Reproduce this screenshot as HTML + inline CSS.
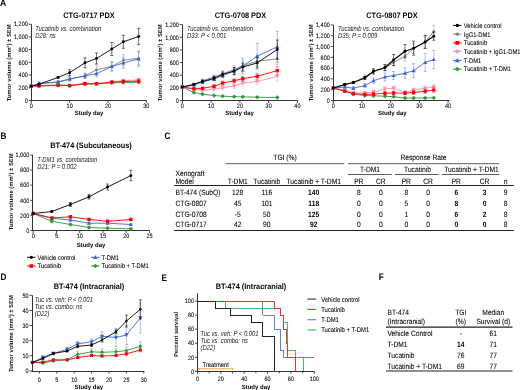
<!DOCTYPE html>
<html><head><meta charset="utf-8"><style>
html,body{margin:0;padding:0;background:#fff;}
svg{display:block;font-family:"Liberation Sans", sans-serif;text-rendering:geometricPrecision;filter:blur(0.25px);}
</style></head><body>
<svg width="520" height="390" viewBox="0 0 520 390">
<rect width="520" height="390" fill="#fff"/>
<text transform="translate(0.00,6.40) scale(1,1.09)" font-size="8.6" font-weight="bold" >A</text>
<text transform="translate(0.40,138.70) scale(0.95,1.09)" font-size="8.6" font-weight="bold" >B</text>
<text transform="translate(164.50,138.80) scale(0.95,1.09)" font-size="8.6" font-weight="bold" >C</text>
<text transform="translate(0.60,279.50) scale(0.95,1.09)" font-size="8.6" font-weight="bold" >D</text>
<text transform="translate(161.60,280.50) scale(0.95,1.09)" font-size="8.6" font-weight="bold" >E</text>
<text transform="translate(378.80,280.20) scale(0.95,1.09)" font-size="8.6" font-weight="bold" >F</text>
<text transform="translate(89.00,17.82) scale(1,1.08)" font-size="7.35" text-anchor="middle" font-weight="bold" >CTG-0717 PDX</text>
<line x1="31.50" y1="24.20" x2="31.50" y2="100.90" stroke="#333" stroke-width="1.0" />
<line x1="28.80" y1="100.40" x2="31.30" y2="100.40" stroke="#333" stroke-width="0.9" />
<text transform="translate(27.80,102.65) scale(1,1.15)" font-size="5.5" text-anchor="end" stroke="#000" stroke-width="0.06" >0</text>
<line x1="28.80" y1="87.70" x2="31.30" y2="87.70" stroke="#333" stroke-width="0.9" />
<text transform="translate(27.80,89.95) scale(1,1.15)" font-size="5.5" text-anchor="end" stroke="#000" stroke-width="0.06" >200</text>
<line x1="28.80" y1="75.00" x2="31.30" y2="75.00" stroke="#333" stroke-width="0.9" />
<text transform="translate(27.80,77.25) scale(1,1.15)" font-size="5.5" text-anchor="end" stroke="#000" stroke-width="0.06" >400</text>
<line x1="28.80" y1="62.30" x2="31.30" y2="62.30" stroke="#333" stroke-width="0.9" />
<text transform="translate(27.80,64.55) scale(1,1.15)" font-size="5.5" text-anchor="end" stroke="#000" stroke-width="0.06" >600</text>
<line x1="28.80" y1="49.60" x2="31.30" y2="49.60" stroke="#333" stroke-width="0.9" />
<text transform="translate(27.80,51.85) scale(1,1.15)" font-size="5.5" text-anchor="end" stroke="#000" stroke-width="0.06" >800</text>
<line x1="28.80" y1="36.90" x2="31.30" y2="36.90" stroke="#333" stroke-width="0.9" />
<text transform="translate(27.80,39.15) scale(1,1.15)" font-size="5.5" text-anchor="end" stroke="#000" stroke-width="0.06" >1,000</text>
<line x1="28.80" y1="24.20" x2="31.30" y2="24.20" stroke="#333" stroke-width="0.9" />
<text transform="translate(27.80,26.45) scale(1,1.15)" font-size="5.5" text-anchor="end" stroke="#000" stroke-width="0.06" >1,200</text>
<line x1="30.80" y1="100.50" x2="146.35" y2="100.50" stroke="#333" stroke-width="1.0" />
<line x1="31.30" y1="100.40" x2="31.30" y2="102.90" stroke="#333" stroke-width="0.9" />
<text transform="translate(31.30,108.05) scale(1,1.15)" font-size="5.5" text-anchor="middle" stroke="#000" stroke-width="0.06" >0</text>
<line x1="69.65" y1="100.40" x2="69.65" y2="102.90" stroke="#333" stroke-width="0.9" />
<text transform="translate(69.65,108.05) scale(1,1.15)" font-size="5.5" text-anchor="middle" stroke="#000" stroke-width="0.06" >10</text>
<line x1="108.00" y1="100.40" x2="108.00" y2="102.90" stroke="#333" stroke-width="0.9" />
<text transform="translate(108.00,108.05) scale(1,1.15)" font-size="5.5" text-anchor="middle" stroke="#000" stroke-width="0.06" >20</text>
<line x1="146.35" y1="100.40" x2="146.35" y2="102.90" stroke="#333" stroke-width="0.9" />
<text transform="translate(146.35,108.05) scale(1,1.15)" font-size="5.5" text-anchor="middle" stroke="#000" stroke-width="0.06" >30</text>
<text transform="translate(89.00,115.12) scale(1,1.04)" font-size="6.0" text-anchor="middle" font-weight="bold" >Study day</text>
<text transform="translate(8.70,62.80) rotate(-90) scale(1,1)" x="0" y="2.11" font-size="5.85" font-weight="bold" text-anchor="middle" fill="#1a1a1a">Tumor volume (mm<tspan font-size="58%" dy="-2.1">3</tspan><tspan dy="2.1">) ± SEM</tspan></text>
<text transform="translate(35.30,30.62) scale(1,1.25)" font-size="5.9" font-style="italic" fill="#222" >Tucatinib vs. combination</text>
<text transform="translate(35.30,37.72) scale(1,1.25)" font-size="5.9" font-style="italic" fill="#222" >D28: ns</text>
<path d="M58.14,84.80V85.80M56.64,84.80H59.64M56.64,85.80H59.64" stroke="#2f9a3a" stroke-width="0.75" fill="none" stroke-opacity="0.55"/>
<path d="M69.65,85.10V86.10M68.15,85.10H71.15M68.15,86.10H71.15" stroke="#2f9a3a" stroke-width="0.75" fill="none" stroke-opacity="0.55"/>
<path d="M84.99,83.70V84.70M83.49,83.70H86.49M83.49,84.70H86.49" stroke="#2f9a3a" stroke-width="0.75" fill="none" stroke-opacity="0.55"/>
<path d="M96.49,83.30V84.50M94.99,83.30H97.99M94.99,84.50H97.99" stroke="#2f9a3a" stroke-width="0.75" fill="none" stroke-opacity="0.55"/>
<path d="M111.83,82.00V83.60M110.33,82.00H113.33M110.33,83.60H113.33" stroke="#2f9a3a" stroke-width="0.75" fill="none" stroke-opacity="0.55"/>
<path d="M123.34,81.70V83.30M121.84,81.70H124.84M121.84,83.30H124.84" stroke="#2f9a3a" stroke-width="0.75" fill="none" stroke-opacity="0.55"/>
<path d="M138.68,81.50V83.10M137.18,81.50H140.18M137.18,83.10H140.18" stroke="#2f9a3a" stroke-width="0.75" fill="none" stroke-opacity="0.55"/>
<polyline points="31.30,86.10 38.97,85.80 58.14,85.30 69.65,85.60 84.99,84.20 96.49,83.90 111.83,82.80 123.34,82.50 138.68,82.30" fill="none" stroke="#2f9a3a" stroke-width="0.9" stroke-linejoin="round" />
<path d="M31.30,83.95L33.45,86.10L31.30,88.25L29.15,86.10Z" fill="#2f9a3a"/>
<path d="M38.97,83.65L41.12,85.80L38.97,87.95L36.82,85.80Z" fill="#2f9a3a"/>
<path d="M58.14,83.15L60.29,85.30L58.14,87.45L55.99,85.30Z" fill="#2f9a3a"/>
<path d="M69.65,83.45L71.80,85.60L69.65,87.75L67.50,85.60Z" fill="#2f9a3a"/>
<path d="M84.99,82.05L87.14,84.20L84.99,86.35L82.84,84.20Z" fill="#2f9a3a"/>
<path d="M96.49,81.75L98.64,83.90L96.49,86.05L94.34,83.90Z" fill="#2f9a3a"/>
<path d="M111.83,80.65L113.98,82.80L111.83,84.95L109.68,82.80Z" fill="#2f9a3a"/>
<path d="M123.34,80.35L125.49,82.50L123.34,84.65L121.19,82.50Z" fill="#2f9a3a"/>
<path d="M138.68,80.15L140.83,82.30L138.68,84.45L136.53,82.30Z" fill="#2f9a3a"/>
<path d="M38.97,85.10V86.10M37.47,85.10H40.47M37.47,86.10H40.47" stroke="#ff8cb0" stroke-width="0.75" fill="none" stroke-opacity="0.55"/>
<path d="M58.14,83.90V85.90M56.64,83.90H59.64M56.64,85.90H59.64" stroke="#ff8cb0" stroke-width="0.75" fill="none" stroke-opacity="0.55"/>
<path d="M69.65,84.40V86.40M68.15,84.40H71.15M68.15,86.40H71.15" stroke="#ff8cb0" stroke-width="0.75" fill="none" stroke-opacity="0.55"/>
<path d="M84.99,82.40V84.40M83.49,82.40H86.49M83.49,84.40H86.49" stroke="#ff8cb0" stroke-width="0.75" fill="none" stroke-opacity="0.55"/>
<path d="M96.49,82.60V84.60M94.99,82.60H97.99M94.99,84.60H97.99" stroke="#ff8cb0" stroke-width="0.75" fill="none" stroke-opacity="0.55"/>
<path d="M111.83,80.40V82.80M110.33,80.40H113.33M110.33,82.80H113.33" stroke="#ff8cb0" stroke-width="0.75" fill="none" stroke-opacity="0.55"/>
<path d="M123.34,79.10V82.10M121.84,79.10H124.84M121.84,82.10H124.84" stroke="#ff8cb0" stroke-width="0.75" fill="none" stroke-opacity="0.55"/>
<path d="M138.68,77.80V82.20M137.18,77.80H140.18M137.18,82.20H140.18" stroke="#ff8cb0" stroke-width="0.75" fill="none" stroke-opacity="0.55"/>
<polyline points="31.30,86.20 38.97,85.60 58.14,84.90 69.65,85.40 84.99,83.40 96.49,83.60 111.83,81.60 123.34,80.60 138.68,80.00" fill="none" stroke="#ff8cb0" stroke-width="0.9" stroke-linejoin="round" />
<path d="M31.30,88.40L33.50,84.55L29.10,84.55Z" fill="#ff8cb0"/>
<path d="M38.97,87.80L41.17,83.95L36.77,83.95Z" fill="#ff8cb0"/>
<path d="M58.14,87.10L60.34,83.25L55.94,83.25Z" fill="#ff8cb0"/>
<path d="M69.65,87.60L71.85,83.75L67.45,83.75Z" fill="#ff8cb0"/>
<path d="M84.99,85.60L87.19,81.75L82.79,81.75Z" fill="#ff8cb0"/>
<path d="M96.49,85.80L98.69,81.95L94.29,81.95Z" fill="#ff8cb0"/>
<path d="M111.83,83.80L114.03,79.95L109.63,79.95Z" fill="#ff8cb0"/>
<path d="M123.34,82.80L125.54,78.95L121.14,78.95Z" fill="#ff8cb0"/>
<path d="M138.68,82.20L140.88,78.35L136.48,78.35Z" fill="#ff8cb0"/>
<path d="M38.97,85.50V86.50M37.47,85.50H40.47M37.47,86.50H40.47" stroke="#ff0000" stroke-width="0.75" fill="none" stroke-opacity="0.55"/>
<path d="M58.14,84.40V86.00M56.64,84.40H59.64M56.64,86.00H59.64" stroke="#ff0000" stroke-width="0.75" fill="none" stroke-opacity="0.55"/>
<path d="M69.65,85.20V86.20M68.15,85.20H71.15M68.15,86.20H71.15" stroke="#ff0000" stroke-width="0.75" fill="none" stroke-opacity="0.55"/>
<path d="M84.99,82.80V84.40M83.49,82.80H86.49M83.49,84.40H86.49" stroke="#ff0000" stroke-width="0.75" fill="none" stroke-opacity="0.55"/>
<path d="M96.49,83.00V84.60M94.99,83.00H97.99M94.99,84.60H97.99" stroke="#ff0000" stroke-width="0.75" fill="none" stroke-opacity="0.55"/>
<path d="M111.83,81.20V83.20M110.33,81.20H113.33M110.33,83.20H113.33" stroke="#ff0000" stroke-width="0.75" fill="none" stroke-opacity="0.55"/>
<path d="M123.34,80.30V82.70M121.84,80.30H124.84M121.84,82.70H124.84" stroke="#ff0000" stroke-width="0.75" fill="none" stroke-opacity="0.55"/>
<path d="M138.68,79.80V82.60M137.18,79.80H140.18M137.18,82.60H140.18" stroke="#ff0000" stroke-width="0.75" fill="none" stroke-opacity="0.55"/>
<polyline points="31.30,86.20 38.97,86.00 58.14,85.20 69.65,85.70 84.99,83.60 96.49,83.80 111.83,82.20 123.34,81.50 138.68,81.20" fill="none" stroke="#ff0000" stroke-width="0.9" stroke-linejoin="round" />
<rect x="29.65" y="84.55" width="3.30" height="3.30" fill="#ff0000"/>
<rect x="37.32" y="84.35" width="3.30" height="3.30" fill="#ff0000"/>
<rect x="56.49" y="83.55" width="3.30" height="3.30" fill="#ff0000"/>
<rect x="68.00" y="84.05" width="3.30" height="3.30" fill="#ff0000"/>
<rect x="83.34" y="81.95" width="3.30" height="3.30" fill="#ff0000"/>
<rect x="94.84" y="82.15" width="3.30" height="3.30" fill="#ff0000"/>
<rect x="110.18" y="80.55" width="3.30" height="3.30" fill="#ff0000"/>
<rect x="121.69" y="79.85" width="3.30" height="3.30" fill="#ff0000"/>
<rect x="137.03" y="79.55" width="3.30" height="3.30" fill="#ff0000"/>
<path d="M38.97,83.00V84.60M37.47,83.00H40.47M37.47,84.60H40.47" stroke="#7f7f7f" stroke-width="0.75" fill="none" stroke-opacity="0.55"/>
<path d="M58.14,81.00V83.40M56.64,81.00H59.64M56.64,83.40H59.64" stroke="#7f7f7f" stroke-width="0.75" fill="none" stroke-opacity="0.55"/>
<path d="M69.65,77.60V80.80M68.15,77.60H71.15M68.15,80.80H71.15" stroke="#7f7f7f" stroke-width="0.75" fill="none" stroke-opacity="0.55"/>
<path d="M84.99,73.30V78.30M83.49,73.30H86.49M83.49,78.30H86.49" stroke="#7f7f7f" stroke-width="0.75" fill="none" stroke-opacity="0.55"/>
<path d="M96.49,65.80V73.80M94.99,65.80H97.99M94.99,73.80H97.99" stroke="#7f7f7f" stroke-width="0.75" fill="none" stroke-opacity="0.55"/>
<path d="M111.83,61.80V70.80M110.33,61.80H113.33M110.33,70.80H113.33" stroke="#7f7f7f" stroke-width="0.75" fill="none" stroke-opacity="0.55"/>
<path d="M123.34,54.70V65.70M121.84,54.70H124.84M121.84,65.70H124.84" stroke="#7f7f7f" stroke-width="0.75" fill="none" stroke-opacity="0.55"/>
<path d="M138.68,51.70V64.70M137.18,51.70H140.18M137.18,64.70H140.18" stroke="#7f7f7f" stroke-width="0.75" fill="none" stroke-opacity="0.55"/>
<polyline points="31.30,86.40 38.97,83.80 58.14,82.20 69.65,79.20 84.99,75.80 96.49,69.80 111.83,66.30 123.34,60.20 138.68,58.20" fill="none" stroke="#7f7f7f" stroke-width="0.9" stroke-linejoin="round" />
<circle cx="31.30" cy="86.40" r="1.30" fill="#7f7f7f"/>
<circle cx="38.97" cy="83.80" r="1.30" fill="#7f7f7f"/>
<circle cx="58.14" cy="82.20" r="1.30" fill="#7f7f7f"/>
<circle cx="69.65" cy="79.20" r="1.30" fill="#7f7f7f"/>
<circle cx="84.99" cy="75.80" r="1.30" fill="#7f7f7f"/>
<circle cx="96.49" cy="69.80" r="1.30" fill="#7f7f7f"/>
<circle cx="111.83" cy="66.30" r="1.30" fill="#7f7f7f"/>
<circle cx="123.34" cy="60.20" r="1.30" fill="#7f7f7f"/>
<circle cx="138.68" cy="58.20" r="1.30" fill="#7f7f7f"/>
<path d="M38.97,81.80V84.80M37.47,81.80H40.47M37.47,84.80H40.47" stroke="#3a6ad0" stroke-width="0.75" fill="none" stroke-opacity="0.55"/>
<path d="M58.14,80.70V83.10M56.64,80.70H59.64M56.64,83.10H59.64" stroke="#3a6ad0" stroke-width="0.75" fill="none" stroke-opacity="0.55"/>
<path d="M69.65,77.00V81.00M68.15,77.00H71.15M68.15,81.00H71.15" stroke="#3a6ad0" stroke-width="0.75" fill="none" stroke-opacity="0.55"/>
<path d="M84.99,73.40V78.40M83.49,73.40H86.49M83.49,78.40H86.49" stroke="#3a6ad0" stroke-width="0.75" fill="none" stroke-opacity="0.55"/>
<path d="M96.49,70.40V76.80M94.99,70.40H97.99M94.99,76.80H97.99" stroke="#3a6ad0" stroke-width="0.75" fill="none" stroke-opacity="0.55"/>
<path d="M111.83,62.00V71.00M110.33,62.00H113.33M110.33,71.00H113.33" stroke="#3a6ad0" stroke-width="0.75" fill="none" stroke-opacity="0.55"/>
<path d="M123.34,57.80V68.20M121.84,57.80H124.84M121.84,68.20H124.84" stroke="#3a6ad0" stroke-width="0.75" fill="none" stroke-opacity="0.55"/>
<path d="M138.68,51.20V66.60M137.18,51.20H140.18M137.18,66.60H140.18" stroke="#3a6ad0" stroke-width="0.75" fill="none" stroke-opacity="0.55"/>
<polyline points="31.30,86.40 38.97,83.30 58.14,81.90 69.65,79.00 84.99,75.90 96.49,73.60 111.83,66.50 123.34,63.00 138.68,58.90" fill="none" stroke="#3a6ad0" stroke-width="0.9" stroke-linejoin="round" />
<path d="M31.30,84.30L33.40,87.98L29.20,87.98Z" fill="#3a6ad0"/>
<path d="M38.97,81.20L41.07,84.88L36.87,84.88Z" fill="#3a6ad0"/>
<path d="M58.14,79.80L60.24,83.48L56.04,83.48Z" fill="#3a6ad0"/>
<path d="M69.65,76.90L71.75,80.58L67.55,80.58Z" fill="#3a6ad0"/>
<path d="M84.99,73.80L87.09,77.48L82.89,77.48Z" fill="#3a6ad0"/>
<path d="M96.49,71.50L98.59,75.17L94.39,75.17Z" fill="#3a6ad0"/>
<path d="M111.83,64.40L113.93,68.08L109.73,68.08Z" fill="#3a6ad0"/>
<path d="M123.34,60.90L125.44,64.58L121.24,64.58Z" fill="#3a6ad0"/>
<path d="M138.68,56.80L140.78,60.48L136.58,60.48Z" fill="#3a6ad0"/>
<path d="M38.97,83.50V85.10M37.47,83.50H40.47M37.47,85.10H40.47" stroke="#000" stroke-width="0.75" fill="none" stroke-opacity="0.75"/>
<path d="M58.14,76.40V78.40M56.64,76.40H59.64M56.64,78.40H59.64" stroke="#000" stroke-width="0.75" fill="none" stroke-opacity="0.75"/>
<path d="M69.65,69.70V75.70M68.15,69.70H71.15M68.15,75.70H71.15" stroke="#000" stroke-width="0.75" fill="none" stroke-opacity="0.75"/>
<path d="M84.99,57.80V67.80M83.49,57.80H86.49M83.49,67.80H86.49" stroke="#000" stroke-width="0.75" fill="none" stroke-opacity="0.75"/>
<path d="M96.49,53.00V64.00M94.99,53.00H97.99M94.99,64.00H97.99" stroke="#000" stroke-width="0.75" fill="none" stroke-opacity="0.75"/>
<path d="M111.83,42.50V55.50M110.33,42.50H113.33M110.33,55.50H113.33" stroke="#000" stroke-width="0.75" fill="none" stroke-opacity="0.75"/>
<path d="M123.34,35.30V48.30M121.84,35.30H124.84M121.84,48.30H124.84" stroke="#000" stroke-width="0.75" fill="none" stroke-opacity="0.75"/>
<path d="M138.68,28.30V44.70M137.18,28.30H140.18M137.18,44.70H140.18" stroke="#000" stroke-width="0.75" fill="none" stroke-opacity="0.75"/>
<polyline points="31.30,86.30 38.97,84.30 58.14,77.40 69.65,72.70 84.99,62.80 96.49,58.50 111.83,49.00 123.34,41.80 138.68,36.50" fill="none" stroke="#000" stroke-width="0.9" stroke-linejoin="round" />
<circle cx="31.30" cy="86.30" r="1.45" fill="#000"/>
<circle cx="38.97" cy="84.30" r="1.45" fill="#000"/>
<circle cx="58.14" cy="77.40" r="1.45" fill="#000"/>
<circle cx="69.65" cy="72.70" r="1.45" fill="#000"/>
<circle cx="84.99" cy="62.80" r="1.45" fill="#000"/>
<circle cx="96.49" cy="58.50" r="1.45" fill="#000"/>
<circle cx="111.83" cy="49.00" r="1.45" fill="#000"/>
<circle cx="123.34" cy="41.80" r="1.45" fill="#000"/>
<circle cx="138.68" cy="36.50" r="1.45" fill="#000"/>
<text transform="translate(240.50,17.82) scale(1,1.08)" font-size="7.35" text-anchor="middle" font-weight="bold" >CTG-0708 PDX</text>
<line x1="182.50" y1="24.60" x2="182.50" y2="101.00" stroke="#333" stroke-width="1.0" />
<line x1="179.90" y1="100.50" x2="182.40" y2="100.50" stroke="#333" stroke-width="0.9" />
<text transform="translate(178.90,102.75) scale(1,1.15)" font-size="5.5" text-anchor="end" stroke="#000" stroke-width="0.06" >0</text>
<line x1="179.90" y1="87.85" x2="182.40" y2="87.85" stroke="#333" stroke-width="0.9" />
<text transform="translate(178.90,90.10) scale(1,1.15)" font-size="5.5" text-anchor="end" stroke="#000" stroke-width="0.06" >200</text>
<line x1="179.90" y1="75.20" x2="182.40" y2="75.20" stroke="#333" stroke-width="0.9" />
<text transform="translate(178.90,77.45) scale(1,1.15)" font-size="5.5" text-anchor="end" stroke="#000" stroke-width="0.06" >400</text>
<line x1="179.90" y1="62.55" x2="182.40" y2="62.55" stroke="#333" stroke-width="0.9" />
<text transform="translate(178.90,64.80) scale(1,1.15)" font-size="5.5" text-anchor="end" stroke="#000" stroke-width="0.06" >600</text>
<line x1="179.90" y1="49.90" x2="182.40" y2="49.90" stroke="#333" stroke-width="0.9" />
<text transform="translate(178.90,52.15) scale(1,1.15)" font-size="5.5" text-anchor="end" stroke="#000" stroke-width="0.06" >800</text>
<line x1="179.90" y1="37.25" x2="182.40" y2="37.25" stroke="#333" stroke-width="0.9" />
<text transform="translate(178.90,39.50) scale(1,1.15)" font-size="5.5" text-anchor="end" stroke="#000" stroke-width="0.06" >1,000</text>
<line x1="179.90" y1="24.60" x2="182.40" y2="24.60" stroke="#333" stroke-width="0.9" />
<text transform="translate(178.90,26.85) scale(1,1.15)" font-size="5.5" text-anchor="end" stroke="#000" stroke-width="0.06" >1,200</text>
<line x1="181.90" y1="100.50" x2="297.40" y2="100.50" stroke="#333" stroke-width="1.0" />
<line x1="182.40" y1="100.50" x2="182.40" y2="103.00" stroke="#333" stroke-width="0.9" />
<text transform="translate(182.40,108.05) scale(1,1.15)" font-size="5.5" text-anchor="middle" stroke="#000" stroke-width="0.06" >0</text>
<line x1="211.15" y1="100.50" x2="211.15" y2="103.00" stroke="#333" stroke-width="0.9" />
<text transform="translate(211.15,108.05) scale(1,1.15)" font-size="5.5" text-anchor="middle" stroke="#000" stroke-width="0.06" >10</text>
<line x1="239.90" y1="100.50" x2="239.90" y2="103.00" stroke="#333" stroke-width="0.9" />
<text transform="translate(239.90,108.05) scale(1,1.15)" font-size="5.5" text-anchor="middle" stroke="#000" stroke-width="0.06" >20</text>
<line x1="268.65" y1="100.50" x2="268.65" y2="103.00" stroke="#333" stroke-width="0.9" />
<text transform="translate(268.65,108.05) scale(1,1.15)" font-size="5.5" text-anchor="middle" stroke="#000" stroke-width="0.06" >30</text>
<line x1="297.40" y1="100.50" x2="297.40" y2="103.00" stroke="#333" stroke-width="0.9" />
<text transform="translate(297.40,108.05) scale(1,1.15)" font-size="5.5" text-anchor="middle" stroke="#000" stroke-width="0.06" >40</text>
<text transform="translate(239.50,115.12) scale(1,1.04)" font-size="6.0" text-anchor="middle" font-weight="bold" >Study day</text>
<text transform="translate(160.30,62.80) rotate(-90) scale(1,1)" x="0" y="2.11" font-size="5.85" font-weight="bold" text-anchor="middle" fill="#1a1a1a">Tumor volume (mm<tspan font-size="58%" dy="-2.1">3</tspan><tspan dy="2.1">) ± SEM</tspan></text>
<text transform="translate(187.00,30.62) scale(1,1.25)" font-size="5.9" font-style="italic" fill="#222" >Tucatinib vs. combination</text>
<text transform="translate(187.00,37.72) scale(1,1.25)" font-size="5.9" font-style="italic" fill="#222" >D33: <tspan font-style="italic">P</tspan> &lt; 0.001</text>
<path d="M193.90,91.90V93.10M192.40,91.90H195.40M192.40,93.10H195.40" stroke="#2f9a3a" stroke-width="0.75" fill="none" stroke-opacity="0.55"/>
<path d="M202.53,93.60V94.80M201.03,93.60H204.03M201.03,94.80H204.03" stroke="#2f9a3a" stroke-width="0.75" fill="none" stroke-opacity="0.55"/>
<path d="M214.03,94.90V96.10M212.53,94.90H215.53M212.53,96.10H215.53" stroke="#2f9a3a" stroke-width="0.75" fill="none" stroke-opacity="0.55"/>
<path d="M222.65,95.60V96.80M221.15,95.60H224.15M221.15,96.80H224.15" stroke="#2f9a3a" stroke-width="0.75" fill="none" stroke-opacity="0.55"/>
<path d="M234.15,96.10V97.30M232.65,96.10H235.65M232.65,97.30H235.65" stroke="#2f9a3a" stroke-width="0.75" fill="none" stroke-opacity="0.55"/>
<path d="M242.78,96.20V97.40M241.28,96.20H244.28M241.28,97.40H244.28" stroke="#2f9a3a" stroke-width="0.75" fill="none" stroke-opacity="0.55"/>
<path d="M257.15,96.60V97.80M255.65,96.60H258.65M255.65,97.80H258.65" stroke="#2f9a3a" stroke-width="0.75" fill="none" stroke-opacity="0.55"/>
<path d="M277.27,96.90V98.10M275.77,96.90H278.77M275.77,98.10H278.77" stroke="#2f9a3a" stroke-width="0.75" fill="none" stroke-opacity="0.55"/>
<polyline points="182.40,87.00 193.90,92.50 202.53,94.20 214.03,95.50 222.65,96.20 234.15,96.70 242.78,96.80 257.15,97.20 277.27,97.50" fill="none" stroke="#2f9a3a" stroke-width="0.9" stroke-linejoin="round" />
<path d="M182.40,84.85L184.55,87.00L182.40,89.15L180.25,87.00Z" fill="#2f9a3a"/>
<path d="M193.90,90.35L196.05,92.50L193.90,94.65L191.75,92.50Z" fill="#2f9a3a"/>
<path d="M202.53,92.05L204.68,94.20L202.53,96.35L200.38,94.20Z" fill="#2f9a3a"/>
<path d="M214.03,93.35L216.18,95.50L214.03,97.65L211.88,95.50Z" fill="#2f9a3a"/>
<path d="M222.65,94.05L224.80,96.20L222.65,98.35L220.50,96.20Z" fill="#2f9a3a"/>
<path d="M234.15,94.55L236.30,96.70L234.15,98.85L232.00,96.70Z" fill="#2f9a3a"/>
<path d="M242.78,94.65L244.93,96.80L242.78,98.95L240.62,96.80Z" fill="#2f9a3a"/>
<path d="M257.15,95.05L259.30,97.20L257.15,99.35L255.00,97.20Z" fill="#2f9a3a"/>
<path d="M277.27,95.35L279.42,97.50L277.27,99.65L275.12,97.50Z" fill="#2f9a3a"/>
<path d="M193.90,88.40V90.40M192.40,88.40H195.40M192.40,90.40H195.40" stroke="#ff8cb0" stroke-width="0.75" fill="none" stroke-opacity="0.55"/>
<path d="M202.53,89.40V91.40M201.03,89.40H204.03M201.03,91.40H204.03" stroke="#ff8cb0" stroke-width="0.75" fill="none" stroke-opacity="0.55"/>
<path d="M214.03,88.00V90.40M212.53,88.00H215.53M212.53,90.40H215.53" stroke="#ff8cb0" stroke-width="0.75" fill="none" stroke-opacity="0.55"/>
<path d="M222.65,85.90V89.90M221.15,85.90H224.15M221.15,89.90H224.15" stroke="#ff8cb0" stroke-width="0.75" fill="none" stroke-opacity="0.55"/>
<path d="M234.15,83.50V88.50M232.65,83.50H235.65M232.65,88.50H235.65" stroke="#ff8cb0" stroke-width="0.75" fill="none" stroke-opacity="0.55"/>
<path d="M242.78,80.10V86.10M241.28,80.10H244.28M241.28,86.10H244.28" stroke="#ff8cb0" stroke-width="0.75" fill="none" stroke-opacity="0.55"/>
<path d="M257.15,78.00V85.00M255.65,78.00H258.65M255.65,85.00H258.65" stroke="#ff8cb0" stroke-width="0.75" fill="none" stroke-opacity="0.55"/>
<path d="M277.27,71.80V80.80M275.77,71.80H278.77M275.77,80.80H278.77" stroke="#ff8cb0" stroke-width="0.75" fill="none" stroke-opacity="0.55"/>
<polyline points="182.40,87.00 193.90,89.40 202.53,90.40 214.03,89.20 222.65,87.90 234.15,86.00 242.78,83.10 257.15,81.50 277.27,76.30" fill="none" stroke="#ff8cb0" stroke-width="0.9" stroke-linejoin="round" />
<path d="M182.40,89.20L184.60,85.35L180.20,85.35Z" fill="#ff8cb0"/>
<path d="M193.90,91.60L196.10,87.75L191.70,87.75Z" fill="#ff8cb0"/>
<path d="M202.53,92.60L204.72,88.75L200.33,88.75Z" fill="#ff8cb0"/>
<path d="M214.03,91.40L216.22,87.55L211.83,87.55Z" fill="#ff8cb0"/>
<path d="M222.65,90.10L224.85,86.25L220.45,86.25Z" fill="#ff8cb0"/>
<path d="M234.15,88.20L236.35,84.35L231.95,84.35Z" fill="#ff8cb0"/>
<path d="M242.78,85.30L244.97,81.45L240.58,81.45Z" fill="#ff8cb0"/>
<path d="M257.15,83.70L259.35,79.85L254.95,79.85Z" fill="#ff8cb0"/>
<path d="M277.27,78.50L279.47,74.65L275.07,74.65Z" fill="#ff8cb0"/>
<path d="M193.90,87.80V89.80M192.40,87.80H195.40M192.40,89.80H195.40" stroke="#ff0000" stroke-width="0.75" fill="none" stroke-opacity="0.55"/>
<path d="M202.53,87.30V89.30M201.03,87.30H204.03M201.03,89.30H204.03" stroke="#ff0000" stroke-width="0.75" fill="none" stroke-opacity="0.55"/>
<path d="M214.03,84.80V87.80M212.53,84.80H215.53M212.53,87.80H215.53" stroke="#ff0000" stroke-width="0.75" fill="none" stroke-opacity="0.55"/>
<path d="M222.65,81.10V85.10M221.15,81.10H224.15M221.15,85.10H224.15" stroke="#ff0000" stroke-width="0.75" fill="none" stroke-opacity="0.55"/>
<path d="M234.15,78.80V82.80M232.65,78.80H235.65M232.65,82.80H235.65" stroke="#ff0000" stroke-width="0.75" fill="none" stroke-opacity="0.55"/>
<path d="M242.78,76.20V81.20M241.28,76.20H244.28M241.28,81.20H244.28" stroke="#ff0000" stroke-width="0.75" fill="none" stroke-opacity="0.55"/>
<path d="M257.15,73.30V79.30M255.65,73.30H258.65M255.65,79.30H258.65" stroke="#ff0000" stroke-width="0.75" fill="none" stroke-opacity="0.55"/>
<path d="M277.27,66.60V74.60M275.77,66.60H278.77M275.77,74.60H278.77" stroke="#ff0000" stroke-width="0.75" fill="none" stroke-opacity="0.55"/>
<polyline points="182.40,87.00 193.90,88.80 202.53,88.30 214.03,86.30 222.65,83.10 234.15,80.80 242.78,78.70 257.15,76.30 277.27,70.60" fill="none" stroke="#ff0000" stroke-width="0.9" stroke-linejoin="round" />
<rect x="180.75" y="85.35" width="3.30" height="3.30" fill="#ff0000"/>
<rect x="192.25" y="87.15" width="3.30" height="3.30" fill="#ff0000"/>
<rect x="200.88" y="86.65" width="3.30" height="3.30" fill="#ff0000"/>
<rect x="212.38" y="84.65" width="3.30" height="3.30" fill="#ff0000"/>
<rect x="221.00" y="81.45" width="3.30" height="3.30" fill="#ff0000"/>
<rect x="232.50" y="79.15" width="3.30" height="3.30" fill="#ff0000"/>
<rect x="241.12" y="77.05" width="3.30" height="3.30" fill="#ff0000"/>
<rect x="255.50" y="74.65" width="3.30" height="3.30" fill="#ff0000"/>
<rect x="275.62" y="68.95" width="3.30" height="3.30" fill="#ff0000"/>
<path d="M193.90,83.40V85.40M192.40,83.40H195.40M192.40,85.40H195.40" stroke="#7f7f7f" stroke-width="0.75" fill="none" stroke-opacity="0.55"/>
<path d="M202.53,79.30V82.30M201.03,79.30H204.03M201.03,82.30H204.03" stroke="#7f7f7f" stroke-width="0.75" fill="none" stroke-opacity="0.55"/>
<path d="M214.03,74.90V78.90M212.53,74.90H215.53M212.53,78.90H215.53" stroke="#7f7f7f" stroke-width="0.75" fill="none" stroke-opacity="0.55"/>
<path d="M222.65,70.80V76.80M221.15,70.80H224.15M221.15,76.80H224.15" stroke="#7f7f7f" stroke-width="0.75" fill="none" stroke-opacity="0.55"/>
<path d="M234.15,65.60V73.60M232.65,65.60H235.65M232.65,73.60H235.65" stroke="#7f7f7f" stroke-width="0.75" fill="none" stroke-opacity="0.55"/>
<path d="M242.78,60.80V70.80M241.28,60.80H244.28M241.28,70.80H244.28" stroke="#7f7f7f" stroke-width="0.75" fill="none" stroke-opacity="0.55"/>
<path d="M257.15,56.30V66.30M255.65,56.30H258.65M255.65,66.30H258.65" stroke="#7f7f7f" stroke-width="0.75" fill="none" stroke-opacity="0.55"/>
<path d="M277.27,52.80V64.80M275.77,52.80H278.77M275.77,64.80H278.77" stroke="#7f7f7f" stroke-width="0.75" fill="none" stroke-opacity="0.55"/>
<polyline points="182.40,87.00 193.90,84.40 202.53,80.80 214.03,76.90 222.65,73.80 234.15,69.60 242.78,65.80 257.15,61.30 277.27,58.80" fill="none" stroke="#7f7f7f" stroke-width="0.9" stroke-linejoin="round" />
<circle cx="182.40" cy="87.00" r="1.30" fill="#7f7f7f"/>
<circle cx="193.90" cy="84.40" r="1.30" fill="#7f7f7f"/>
<circle cx="202.53" cy="80.80" r="1.30" fill="#7f7f7f"/>
<circle cx="214.03" cy="76.90" r="1.30" fill="#7f7f7f"/>
<circle cx="222.65" cy="73.80" r="1.30" fill="#7f7f7f"/>
<circle cx="234.15" cy="69.60" r="1.30" fill="#7f7f7f"/>
<circle cx="242.78" cy="65.80" r="1.30" fill="#7f7f7f"/>
<circle cx="257.15" cy="61.30" r="1.30" fill="#7f7f7f"/>
<circle cx="277.27" cy="58.80" r="1.30" fill="#7f7f7f"/>
<path d="M193.90,84.00V86.00M192.40,84.00H195.40M192.40,86.00H195.40" stroke="#3a6ad0" stroke-width="0.75" fill="none" stroke-opacity="0.55"/>
<path d="M202.53,80.50V83.50M201.03,80.50H204.03M201.03,83.50H204.03" stroke="#3a6ad0" stroke-width="0.75" fill="none" stroke-opacity="0.55"/>
<path d="M214.03,77.00V81.00M212.53,77.00H215.53M212.53,81.00H215.53" stroke="#3a6ad0" stroke-width="0.75" fill="none" stroke-opacity="0.55"/>
<path d="M222.65,73.00V78.00M221.15,73.00H224.15M221.15,78.00H224.15" stroke="#3a6ad0" stroke-width="0.75" fill="none" stroke-opacity="0.55"/>
<path d="M234.15,67.20V75.20M232.65,67.20H235.65M232.65,75.20H235.65" stroke="#3a6ad0" stroke-width="0.75" fill="none" stroke-opacity="0.55"/>
<path d="M242.78,58.30V73.70M241.28,58.30H244.28M241.28,73.70H244.28" stroke="#3a6ad0" stroke-width="0.75" fill="none" stroke-opacity="0.55"/>
<path d="M257.15,43.20V69.20M255.65,43.20H258.65M255.65,69.20H258.65" stroke="#3a6ad0" stroke-width="0.75" fill="none" stroke-opacity="0.55"/>
<path d="M277.27,31.30V62.30M275.77,31.30H278.77M275.77,62.30H278.77" stroke="#3a6ad0" stroke-width="0.75" fill="none" stroke-opacity="0.55"/>
<polyline points="182.40,87.00 193.90,85.00 202.53,82.00 214.03,79.00 222.65,75.50 234.15,71.20 242.78,66.00 257.15,56.20 277.27,46.80" fill="none" stroke="#3a6ad0" stroke-width="0.9" stroke-linejoin="round" />
<path d="M182.40,84.90L184.50,88.58L180.30,88.58Z" fill="#3a6ad0"/>
<path d="M193.90,82.90L196.00,86.58L191.80,86.58Z" fill="#3a6ad0"/>
<path d="M202.53,79.90L204.62,83.58L200.43,83.58Z" fill="#3a6ad0"/>
<path d="M214.03,76.90L216.12,80.58L211.93,80.58Z" fill="#3a6ad0"/>
<path d="M222.65,73.40L224.75,77.08L220.55,77.08Z" fill="#3a6ad0"/>
<path d="M234.15,69.10L236.25,72.78L232.05,72.78Z" fill="#3a6ad0"/>
<path d="M242.78,63.90L244.88,67.58L240.68,67.58Z" fill="#3a6ad0"/>
<path d="M257.15,54.10L259.25,57.78L255.05,57.78Z" fill="#3a6ad0"/>
<path d="M277.27,44.70L279.38,48.38L275.17,48.38Z" fill="#3a6ad0"/>
<path d="M193.90,83.40V85.40M192.40,83.40H195.40M192.40,85.40H195.40" stroke="#000" stroke-width="0.75" fill="none" stroke-opacity="0.75"/>
<path d="M202.53,80.00V83.00M201.03,80.00H204.03M201.03,83.00H204.03" stroke="#000" stroke-width="0.75" fill="none" stroke-opacity="0.75"/>
<path d="M214.03,76.30V80.30M212.53,76.30H215.53M212.53,80.30H215.53" stroke="#000" stroke-width="0.75" fill="none" stroke-opacity="0.75"/>
<path d="M222.65,71.90V76.90M221.15,71.90H224.15M221.15,76.90H224.15" stroke="#000" stroke-width="0.75" fill="none" stroke-opacity="0.75"/>
<path d="M234.15,67.50V74.50M232.65,67.50H235.65M232.65,74.50H235.65" stroke="#000" stroke-width="0.75" fill="none" stroke-opacity="0.75"/>
<path d="M242.78,63.10V71.10M241.28,63.10H244.28M241.28,71.10H244.28" stroke="#000" stroke-width="0.75" fill="none" stroke-opacity="0.75"/>
<path d="M257.15,57.90V67.90M255.65,57.90H258.65M255.65,67.90H258.65" stroke="#000" stroke-width="0.75" fill="none" stroke-opacity="0.75"/>
<path d="M277.27,40.00V59.00M275.77,40.00H278.77M275.77,59.00H278.77" stroke="#000" stroke-width="0.75" fill="none" stroke-opacity="0.75"/>
<polyline points="182.40,87.00 193.90,84.40 202.53,81.50 214.03,78.30 222.65,74.40 234.15,71.00 242.78,67.10 257.15,62.90 277.27,49.50" fill="none" stroke="#000" stroke-width="0.9" stroke-linejoin="round" />
<circle cx="182.40" cy="87.00" r="1.45" fill="#000"/>
<circle cx="193.90" cy="84.40" r="1.45" fill="#000"/>
<circle cx="202.53" cy="81.50" r="1.45" fill="#000"/>
<circle cx="214.03" cy="78.30" r="1.45" fill="#000"/>
<circle cx="222.65" cy="74.40" r="1.45" fill="#000"/>
<circle cx="234.15" cy="71.00" r="1.45" fill="#000"/>
<circle cx="242.78" cy="67.10" r="1.45" fill="#000"/>
<circle cx="257.15" cy="62.90" r="1.45" fill="#000"/>
<circle cx="277.27" cy="49.50" r="1.45" fill="#000"/>
<text transform="translate(392.00,17.82) scale(1,1.08)" font-size="7.35" text-anchor="middle" font-weight="bold" >CTG-0807 PDX</text>
<line x1="333.50" y1="24.90" x2="333.50" y2="101.00" stroke="#333" stroke-width="1.0" />
<line x1="330.80" y1="100.50" x2="333.30" y2="100.50" stroke="#333" stroke-width="0.9" />
<text transform="translate(329.80,102.75) scale(1,1.15)" font-size="5.5" text-anchor="end" stroke="#000" stroke-width="0.06" >0</text>
<line x1="330.80" y1="89.70" x2="333.30" y2="89.70" stroke="#333" stroke-width="0.9" />
<text transform="translate(329.80,91.95) scale(1,1.15)" font-size="5.5" text-anchor="end" stroke="#000" stroke-width="0.06" >200</text>
<line x1="330.80" y1="78.90" x2="333.30" y2="78.90" stroke="#333" stroke-width="0.9" />
<text transform="translate(329.80,81.15) scale(1,1.15)" font-size="5.5" text-anchor="end" stroke="#000" stroke-width="0.06" >400</text>
<line x1="330.80" y1="68.10" x2="333.30" y2="68.10" stroke="#333" stroke-width="0.9" />
<text transform="translate(329.80,70.35) scale(1,1.15)" font-size="5.5" text-anchor="end" stroke="#000" stroke-width="0.06" >600</text>
<line x1="330.80" y1="57.30" x2="333.30" y2="57.30" stroke="#333" stroke-width="0.9" />
<text transform="translate(329.80,59.55) scale(1,1.15)" font-size="5.5" text-anchor="end" stroke="#000" stroke-width="0.06" >800</text>
<line x1="330.80" y1="46.50" x2="333.30" y2="46.50" stroke="#333" stroke-width="0.9" />
<text transform="translate(329.80,48.75) scale(1,1.15)" font-size="5.5" text-anchor="end" stroke="#000" stroke-width="0.06" >1,000</text>
<line x1="330.80" y1="35.70" x2="333.30" y2="35.70" stroke="#333" stroke-width="0.9" />
<text transform="translate(329.80,37.95) scale(1,1.15)" font-size="5.5" text-anchor="end" stroke="#000" stroke-width="0.06" >1,200</text>
<line x1="330.80" y1="24.90" x2="333.30" y2="24.90" stroke="#333" stroke-width="0.9" />
<text transform="translate(329.80,27.15) scale(1,1.15)" font-size="5.5" text-anchor="end" stroke="#000" stroke-width="0.06" >1,400</text>
<line x1="332.80" y1="100.50" x2="449.54" y2="100.50" stroke="#333" stroke-width="1.0" />
<line x1="333.30" y1="100.50" x2="333.30" y2="103.00" stroke="#333" stroke-width="0.9" />
<text transform="translate(333.30,108.05) scale(1,1.15)" font-size="5.5" text-anchor="middle" stroke="#000" stroke-width="0.06" >0</text>
<line x1="362.00" y1="100.50" x2="362.00" y2="103.00" stroke="#333" stroke-width="0.9" />
<text transform="translate(362.00,108.05) scale(1,1.15)" font-size="5.5" text-anchor="middle" stroke="#000" stroke-width="0.06" >10</text>
<line x1="390.70" y1="100.50" x2="390.70" y2="103.00" stroke="#333" stroke-width="0.9" />
<text transform="translate(390.70,108.05) scale(1,1.15)" font-size="5.5" text-anchor="middle" stroke="#000" stroke-width="0.06" >20</text>
<line x1="419.40" y1="100.50" x2="419.40" y2="103.00" stroke="#333" stroke-width="0.9" />
<text transform="translate(419.40,108.05) scale(1,1.15)" font-size="5.5" text-anchor="middle" stroke="#000" stroke-width="0.06" >30</text>
<line x1="448.10" y1="100.50" x2="448.10" y2="103.00" stroke="#333" stroke-width="0.9" />
<text transform="translate(448.10,108.05) scale(1,1.15)" font-size="5.5" text-anchor="middle" stroke="#000" stroke-width="0.06" >40</text>
<text transform="translate(392.30,115.12) scale(1,1.04)" font-size="6.0" text-anchor="middle" font-weight="bold" >Study day</text>
<text transform="translate(310.80,62.80) rotate(-90) scale(1,1)" x="0" y="2.11" font-size="5.85" font-weight="bold" text-anchor="middle" fill="#1a1a1a">Tumor volume (mm<tspan font-size="58%" dy="-2.1">3</tspan><tspan dy="2.1">) ± SEM</tspan></text>
<text transform="translate(338.00,30.62) scale(1,1.25)" font-size="5.9" font-style="italic" fill="#222" >Tucatinib vs. combination</text>
<text transform="translate(338.00,37.72) scale(1,1.25)" font-size="5.9" font-style="italic" fill="#222" >D35: <tspan font-style="italic">P</tspan> = 0.009</text>
<path d="M344.78,90.20V91.40M343.28,90.20H346.28M343.28,91.40H346.28" stroke="#2f9a3a" stroke-width="0.75" fill="none" stroke-opacity="0.55"/>
<path d="M353.39,93.60V94.80M351.89,93.60H354.89M351.89,94.80H354.89" stroke="#2f9a3a" stroke-width="0.75" fill="none" stroke-opacity="0.55"/>
<path d="M364.87,94.90V96.10M363.37,94.90H366.37M363.37,96.10H366.37" stroke="#2f9a3a" stroke-width="0.75" fill="none" stroke-opacity="0.55"/>
<path d="M373.48,95.20V96.40M371.98,95.20H374.98M371.98,96.40H374.98" stroke="#2f9a3a" stroke-width="0.75" fill="none" stroke-opacity="0.55"/>
<path d="M384.96,95.60V96.80M383.46,95.60H386.46M383.46,96.80H386.46" stroke="#2f9a3a" stroke-width="0.75" fill="none" stroke-opacity="0.55"/>
<path d="M393.57,96.10V97.30M392.07,96.10H395.07M392.07,97.30H395.07" stroke="#2f9a3a" stroke-width="0.75" fill="none" stroke-opacity="0.55"/>
<path d="M405.05,97.40V98.60M403.55,97.40H406.55M403.55,98.60H406.55" stroke="#2f9a3a" stroke-width="0.75" fill="none" stroke-opacity="0.55"/>
<path d="M413.66,97.40V98.60M412.16,97.40H415.16M412.16,98.60H415.16" stroke="#2f9a3a" stroke-width="0.75" fill="none" stroke-opacity="0.55"/>
<path d="M425.14,97.40V98.60M423.64,97.40H426.64M423.64,98.60H426.64" stroke="#2f9a3a" stroke-width="0.75" fill="none" stroke-opacity="0.55"/>
<path d="M433.75,97.20V98.40M432.25,97.20H435.25M432.25,98.40H435.25" stroke="#2f9a3a" stroke-width="0.75" fill="none" stroke-opacity="0.55"/>
<polyline points="333.30,88.00 344.78,90.80 353.39,94.20 364.87,95.50 373.48,95.80 384.96,96.20 393.57,96.70 405.05,98.00 413.66,98.00 425.14,98.00 433.75,97.80" fill="none" stroke="#2f9a3a" stroke-width="0.9" stroke-linejoin="round" />
<path d="M333.30,85.85L335.45,88.00L333.30,90.15L331.15,88.00Z" fill="#2f9a3a"/>
<path d="M344.78,88.65L346.93,90.80L344.78,92.95L342.63,90.80Z" fill="#2f9a3a"/>
<path d="M353.39,92.05L355.54,94.20L353.39,96.35L351.24,94.20Z" fill="#2f9a3a"/>
<path d="M364.87,93.35L367.02,95.50L364.87,97.65L362.72,95.50Z" fill="#2f9a3a"/>
<path d="M373.48,93.65L375.63,95.80L373.48,97.95L371.33,95.80Z" fill="#2f9a3a"/>
<path d="M384.96,94.05L387.11,96.20L384.96,98.35L382.81,96.20Z" fill="#2f9a3a"/>
<path d="M393.57,94.55L395.72,96.70L393.57,98.85L391.42,96.70Z" fill="#2f9a3a"/>
<path d="M405.05,95.85L407.20,98.00L405.05,100.15L402.90,98.00Z" fill="#2f9a3a"/>
<path d="M413.66,95.85L415.81,98.00L413.66,100.15L411.51,98.00Z" fill="#2f9a3a"/>
<path d="M425.14,95.85L427.29,98.00L425.14,100.15L422.99,98.00Z" fill="#2f9a3a"/>
<path d="M433.75,95.65L435.90,97.80L433.75,99.95L431.60,97.80Z" fill="#2f9a3a"/>
<path d="M344.78,89.50V91.50M343.28,89.50H346.28M343.28,91.50H346.28" stroke="#ff8cb0" stroke-width="0.75" fill="none" stroke-opacity="0.55"/>
<path d="M353.39,92.00V94.00M351.89,92.00H354.89M351.89,94.00H354.89" stroke="#ff8cb0" stroke-width="0.75" fill="none" stroke-opacity="0.55"/>
<path d="M364.87,91.50V94.50M363.37,91.50H366.37M363.37,94.50H366.37" stroke="#ff8cb0" stroke-width="0.75" fill="none" stroke-opacity="0.55"/>
<path d="M373.48,90.50V93.50M371.98,90.50H374.98M371.98,93.50H374.98" stroke="#ff8cb0" stroke-width="0.75" fill="none" stroke-opacity="0.55"/>
<path d="M384.96,86.80V90.80M383.46,86.80H386.46M383.46,90.80H386.46" stroke="#ff8cb0" stroke-width="0.75" fill="none" stroke-opacity="0.55"/>
<path d="M393.57,86.20V90.20M392.07,86.20H395.07M392.07,90.20H395.07" stroke="#ff8cb0" stroke-width="0.75" fill="none" stroke-opacity="0.55"/>
<path d="M405.05,90.50V94.50M403.55,90.50H406.55M403.55,94.50H406.55" stroke="#ff8cb0" stroke-width="0.75" fill="none" stroke-opacity="0.55"/>
<path d="M413.66,88.00V92.00M412.16,88.00H415.16M412.16,92.00H415.16" stroke="#ff8cb0" stroke-width="0.75" fill="none" stroke-opacity="0.55"/>
<path d="M425.14,85.70V90.70M423.64,85.70H426.64M423.64,90.70H426.64" stroke="#ff8cb0" stroke-width="0.75" fill="none" stroke-opacity="0.55"/>
<path d="M433.75,84.00V90.00M432.25,84.00H435.25M432.25,90.00H435.25" stroke="#ff8cb0" stroke-width="0.75" fill="none" stroke-opacity="0.55"/>
<polyline points="333.30,88.00 344.78,90.50 353.39,93.00 364.87,93.00 373.48,92.00 384.96,88.80 393.57,88.20 405.05,92.50 413.66,90.00 425.14,88.20 433.75,87.00" fill="none" stroke="#ff8cb0" stroke-width="0.9" stroke-linejoin="round" />
<path d="M333.30,90.20L335.50,86.35L331.10,86.35Z" fill="#ff8cb0"/>
<path d="M344.78,92.70L346.98,88.85L342.58,88.85Z" fill="#ff8cb0"/>
<path d="M353.39,95.20L355.59,91.35L351.19,91.35Z" fill="#ff8cb0"/>
<path d="M364.87,95.20L367.07,91.35L362.67,91.35Z" fill="#ff8cb0"/>
<path d="M373.48,94.20L375.68,90.35L371.28,90.35Z" fill="#ff8cb0"/>
<path d="M384.96,91.00L387.16,87.15L382.76,87.15Z" fill="#ff8cb0"/>
<path d="M393.57,90.40L395.77,86.55L391.37,86.55Z" fill="#ff8cb0"/>
<path d="M405.05,94.70L407.25,90.85L402.85,90.85Z" fill="#ff8cb0"/>
<path d="M413.66,92.20L415.86,88.35L411.46,88.35Z" fill="#ff8cb0"/>
<path d="M425.14,90.40L427.34,86.55L422.94,86.55Z" fill="#ff8cb0"/>
<path d="M433.75,89.20L435.95,85.35L431.55,85.35Z" fill="#ff8cb0"/>
<path d="M344.78,90.20V92.20M343.28,90.20H346.28M343.28,92.20H346.28" stroke="#ff0000" stroke-width="0.75" fill="none" stroke-opacity="0.55"/>
<path d="M353.39,92.70V94.70M351.89,92.70H354.89M351.89,94.70H354.89" stroke="#ff0000" stroke-width="0.75" fill="none" stroke-opacity="0.55"/>
<path d="M364.87,93.30V95.70M363.37,93.30H366.37M363.37,95.70H366.37" stroke="#ff0000" stroke-width="0.75" fill="none" stroke-opacity="0.55"/>
<path d="M373.48,92.70V95.70M371.98,92.70H374.98M371.98,95.70H374.98" stroke="#ff0000" stroke-width="0.75" fill="none" stroke-opacity="0.55"/>
<path d="M384.96,91.70V94.70M383.46,91.70H386.46M383.46,94.70H386.46" stroke="#ff0000" stroke-width="0.75" fill="none" stroke-opacity="0.55"/>
<path d="M393.57,91.50V94.50M392.07,91.50H395.07M392.07,94.50H395.07" stroke="#ff0000" stroke-width="0.75" fill="none" stroke-opacity="0.55"/>
<path d="M405.05,91.70V94.70M403.55,91.70H406.55M403.55,94.70H406.55" stroke="#ff0000" stroke-width="0.75" fill="none" stroke-opacity="0.55"/>
<path d="M413.66,90.50V94.50M412.16,90.50H415.16M412.16,94.50H415.16" stroke="#ff0000" stroke-width="0.75" fill="none" stroke-opacity="0.55"/>
<path d="M425.14,89.20V93.20M423.64,89.20H426.64M423.64,93.20H426.64" stroke="#ff0000" stroke-width="0.75" fill="none" stroke-opacity="0.55"/>
<path d="M433.75,87.50V92.50M432.25,87.50H435.25M432.25,92.50H435.25" stroke="#ff0000" stroke-width="0.75" fill="none" stroke-opacity="0.55"/>
<polyline points="333.30,88.00 344.78,91.20 353.39,93.70 364.87,94.50 373.48,94.20 384.96,93.20 393.57,93.00 405.05,93.20 413.66,92.50 425.14,91.20 433.75,90.00" fill="none" stroke="#ff0000" stroke-width="0.9" stroke-linejoin="round" />
<rect x="331.65" y="86.35" width="3.30" height="3.30" fill="#ff0000"/>
<rect x="343.13" y="89.55" width="3.30" height="3.30" fill="#ff0000"/>
<rect x="351.74" y="92.05" width="3.30" height="3.30" fill="#ff0000"/>
<rect x="363.22" y="92.85" width="3.30" height="3.30" fill="#ff0000"/>
<rect x="371.83" y="92.55" width="3.30" height="3.30" fill="#ff0000"/>
<rect x="383.31" y="91.55" width="3.30" height="3.30" fill="#ff0000"/>
<rect x="391.92" y="91.35" width="3.30" height="3.30" fill="#ff0000"/>
<rect x="403.40" y="91.55" width="3.30" height="3.30" fill="#ff0000"/>
<rect x="412.01" y="90.85" width="3.30" height="3.30" fill="#ff0000"/>
<rect x="423.49" y="89.55" width="3.30" height="3.30" fill="#ff0000"/>
<rect x="432.10" y="88.35" width="3.30" height="3.30" fill="#ff0000"/>
<path d="M344.78,83.50V85.50M343.28,83.50H346.28M343.28,85.50H346.28" stroke="#7f7f7f" stroke-width="0.75" fill="none" stroke-opacity="0.55"/>
<path d="M353.39,81.50V83.50M351.89,81.50H354.89M351.89,83.50H354.89" stroke="#7f7f7f" stroke-width="0.75" fill="none" stroke-opacity="0.55"/>
<path d="M364.87,74.80V78.80M363.37,74.80H366.37M363.37,78.80H366.37" stroke="#7f7f7f" stroke-width="0.75" fill="none" stroke-opacity="0.55"/>
<path d="M373.48,69.30V74.30M371.98,69.30H374.98M371.98,74.30H374.98" stroke="#7f7f7f" stroke-width="0.75" fill="none" stroke-opacity="0.55"/>
<path d="M384.96,65.00V71.00M383.46,65.00H386.46M383.46,71.00H386.46" stroke="#7f7f7f" stroke-width="0.75" fill="none" stroke-opacity="0.55"/>
<path d="M393.57,59.00V66.00M392.07,59.00H395.07M392.07,66.00H395.07" stroke="#7f7f7f" stroke-width="0.75" fill="none" stroke-opacity="0.55"/>
<path d="M405.05,51.20V61.20M403.55,51.20H406.55M403.55,61.20H406.55" stroke="#7f7f7f" stroke-width="0.75" fill="none" stroke-opacity="0.55"/>
<path d="M413.66,43.50V53.50M412.16,43.50H415.16M412.16,53.50H415.16" stroke="#7f7f7f" stroke-width="0.75" fill="none" stroke-opacity="0.55"/>
<path d="M425.14,36.20V48.20M423.64,36.20H426.64M423.64,48.20H426.64" stroke="#7f7f7f" stroke-width="0.75" fill="none" stroke-opacity="0.55"/>
<path d="M433.75,25.20V37.20M432.25,25.20H435.25M432.25,37.20H435.25" stroke="#7f7f7f" stroke-width="0.75" fill="none" stroke-opacity="0.55"/>
<polyline points="333.30,88.00 344.78,84.50 353.39,82.50 364.87,76.80 373.48,71.80 384.96,68.00 393.57,62.50 405.05,56.20 413.66,48.50 425.14,42.20 433.75,31.20" fill="none" stroke="#7f7f7f" stroke-width="0.9" stroke-linejoin="round" />
<circle cx="333.30" cy="88.00" r="1.30" fill="#7f7f7f"/>
<circle cx="344.78" cy="84.50" r="1.30" fill="#7f7f7f"/>
<circle cx="353.39" cy="82.50" r="1.30" fill="#7f7f7f"/>
<circle cx="364.87" cy="76.80" r="1.30" fill="#7f7f7f"/>
<circle cx="373.48" cy="71.80" r="1.30" fill="#7f7f7f"/>
<circle cx="384.96" cy="68.00" r="1.30" fill="#7f7f7f"/>
<circle cx="393.57" cy="62.50" r="1.30" fill="#7f7f7f"/>
<circle cx="405.05" cy="56.20" r="1.30" fill="#7f7f7f"/>
<circle cx="413.66" cy="48.50" r="1.30" fill="#7f7f7f"/>
<circle cx="425.14" cy="42.20" r="1.30" fill="#7f7f7f"/>
<circle cx="433.75" cy="31.20" r="1.30" fill="#7f7f7f"/>
<path d="M344.78,86.00V88.00M343.28,86.00H346.28M343.28,88.00H346.28" stroke="#3a6ad0" stroke-width="0.75" fill="none" stroke-opacity="0.55"/>
<path d="M353.39,86.70V89.70M351.89,86.70H354.89M351.89,89.70H354.89" stroke="#3a6ad0" stroke-width="0.75" fill="none" stroke-opacity="0.55"/>
<path d="M364.87,83.50V87.50M363.37,83.50H366.37M363.37,87.50H366.37" stroke="#3a6ad0" stroke-width="0.75" fill="none" stroke-opacity="0.55"/>
<path d="M373.48,78.20V83.20M371.98,78.20H374.98M371.98,83.20H374.98" stroke="#3a6ad0" stroke-width="0.75" fill="none" stroke-opacity="0.55"/>
<path d="M384.96,73.00V81.00M383.46,73.00H386.46M383.46,81.00H386.46" stroke="#3a6ad0" stroke-width="0.75" fill="none" stroke-opacity="0.55"/>
<path d="M393.57,71.50V79.50M392.07,71.50H395.07M392.07,79.50H395.07" stroke="#3a6ad0" stroke-width="0.75" fill="none" stroke-opacity="0.55"/>
<path d="M405.05,67.70V78.70M403.55,67.70H406.55M403.55,78.70H406.55" stroke="#3a6ad0" stroke-width="0.75" fill="none" stroke-opacity="0.55"/>
<path d="M413.66,63.70V77.70M412.16,63.70H415.16M412.16,77.70H415.16" stroke="#3a6ad0" stroke-width="0.75" fill="none" stroke-opacity="0.55"/>
<path d="M425.14,53.50V71.50M423.64,53.50H426.64M423.64,71.50H426.64" stroke="#3a6ad0" stroke-width="0.75" fill="none" stroke-opacity="0.55"/>
<path d="M433.75,50.50V68.50M432.25,50.50H435.25M432.25,68.50H435.25" stroke="#3a6ad0" stroke-width="0.75" fill="none" stroke-opacity="0.55"/>
<polyline points="333.30,88.00 344.78,87.00 353.39,88.20 364.87,85.50 373.48,80.70 384.96,77.00 393.57,75.50 405.05,73.20 413.66,70.70 425.14,62.50 433.75,59.50" fill="none" stroke="#3a6ad0" stroke-width="0.9" stroke-linejoin="round" />
<path d="M333.30,85.90L335.40,89.58L331.20,89.58Z" fill="#3a6ad0"/>
<path d="M344.78,84.90L346.88,88.58L342.68,88.58Z" fill="#3a6ad0"/>
<path d="M353.39,86.10L355.49,89.78L351.29,89.78Z" fill="#3a6ad0"/>
<path d="M364.87,83.40L366.97,87.08L362.77,87.08Z" fill="#3a6ad0"/>
<path d="M373.48,78.60L375.58,82.28L371.38,82.28Z" fill="#3a6ad0"/>
<path d="M384.96,74.90L387.06,78.58L382.86,78.58Z" fill="#3a6ad0"/>
<path d="M393.57,73.40L395.67,77.08L391.47,77.08Z" fill="#3a6ad0"/>
<path d="M405.05,71.10L407.15,74.78L402.95,74.78Z" fill="#3a6ad0"/>
<path d="M413.66,68.60L415.76,72.28L411.56,72.28Z" fill="#3a6ad0"/>
<path d="M425.14,60.40L427.24,64.08L423.04,64.08Z" fill="#3a6ad0"/>
<path d="M433.75,57.40L435.85,61.08L431.65,61.08Z" fill="#3a6ad0"/>
<path d="M344.78,83.50V85.50M343.28,83.50H346.28M343.28,85.50H346.28" stroke="#000" stroke-width="0.75" fill="none" stroke-opacity="0.75"/>
<path d="M353.39,81.50V83.50M351.89,81.50H354.89M351.89,83.50H354.89" stroke="#000" stroke-width="0.75" fill="none" stroke-opacity="0.75"/>
<path d="M364.87,76.50V79.50M363.37,76.50H366.37M363.37,79.50H366.37" stroke="#000" stroke-width="0.75" fill="none" stroke-opacity="0.75"/>
<path d="M373.48,68.70V73.70M371.98,68.70H374.98M371.98,73.70H374.98" stroke="#000" stroke-width="0.75" fill="none" stroke-opacity="0.75"/>
<path d="M384.96,64.50V70.50M383.46,64.50H386.46M383.46,70.50H386.46" stroke="#000" stroke-width="0.75" fill="none" stroke-opacity="0.75"/>
<path d="M393.57,54.50V65.50M392.07,54.50H395.07M392.07,65.50H395.07" stroke="#000" stroke-width="0.75" fill="none" stroke-opacity="0.75"/>
<path d="M405.05,44.45V57.95M403.55,44.45H406.55M403.55,57.95H406.55" stroke="#000" stroke-width="0.75" fill="none" stroke-opacity="0.75"/>
<path d="M413.66,41.20V55.20M412.16,41.20H415.16M412.16,55.20H415.16" stroke="#000" stroke-width="0.75" fill="none" stroke-opacity="0.75"/>
<path d="M425.14,35.50V48.50M423.64,35.50H426.64M423.64,48.50H426.64" stroke="#000" stroke-width="0.75" fill="none" stroke-opacity="0.75"/>
<path d="M433.75,32.20V40.20M432.25,32.20H435.25M432.25,40.20H435.25" stroke="#000" stroke-width="0.75" fill="none" stroke-opacity="0.75"/>
<polyline points="333.30,88.00 344.78,84.50 353.39,82.50 364.87,78.00 373.48,71.20 384.96,67.50 393.57,60.00 405.05,51.20 413.66,48.20 425.14,42.00 433.75,36.20" fill="none" stroke="#000" stroke-width="1.2" stroke-linejoin="round" />
<circle cx="333.30" cy="88.00" r="1.45" fill="#000"/>
<circle cx="344.78" cy="84.50" r="1.45" fill="#000"/>
<circle cx="353.39" cy="82.50" r="1.45" fill="#000"/>
<circle cx="364.87" cy="78.00" r="1.45" fill="#000"/>
<circle cx="373.48" cy="71.20" r="1.45" fill="#000"/>
<circle cx="384.96" cy="67.50" r="1.45" fill="#000"/>
<circle cx="393.57" cy="60.00" r="1.45" fill="#000"/>
<circle cx="405.05" cy="51.20" r="1.45" fill="#000"/>
<circle cx="413.66" cy="48.20" r="1.45" fill="#000"/>
<circle cx="425.14" cy="42.00" r="1.45" fill="#000"/>
<circle cx="433.75" cy="36.20" r="1.45" fill="#000"/>
<line x1="453.00" y1="25.40" x2="461.50" y2="25.40" stroke="#000" stroke-width="1.0" />
<circle cx="457.30" cy="25.40" r="1.67" fill="#000"/>
<text transform="translate(463.80,27.77) scale(1,1.15)" font-size="5.8" stroke="#000" stroke-width="0.06" >Vehicle control</text>
<line x1="453.00" y1="34.14" x2="461.50" y2="34.14" stroke="#7f7f7f" stroke-width="1.0" />
<circle cx="457.30" cy="34.14" r="1.67" fill="#7f7f7f"/>
<text transform="translate(463.80,36.51) scale(1,1.15)" font-size="5.8" stroke="#000" stroke-width="0.06" >IgG1-DM1</text>
<line x1="453.00" y1="42.88" x2="461.50" y2="42.88" stroke="#ff0000" stroke-width="1.0" />
<rect x="455.40" y="40.98" width="3.79" height="3.79" fill="#ff0000"/>
<text transform="translate(463.80,45.25) scale(1,1.15)" font-size="5.8" stroke="#000" stroke-width="0.06" >Tucatinib</text>
<line x1="453.00" y1="51.62" x2="461.50" y2="51.62" stroke="#ff8cb0" stroke-width="1.0" />
<path d="M457.30,54.15L459.83,49.72L454.77,49.72Z" fill="#ff8cb0"/>
<text transform="translate(463.80,53.99) scale(1,1.15)" font-size="5.8" stroke="#000" stroke-width="0.06" >Tucatinib + IgG1-DM1</text>
<line x1="453.00" y1="60.36" x2="461.50" y2="60.36" stroke="#3a6ad0" stroke-width="1.0" />
<path d="M457.30,57.95L459.72,62.17L454.88,62.17Z" fill="#3a6ad0"/>
<text transform="translate(463.80,62.73) scale(1,1.15)" font-size="5.8" stroke="#000" stroke-width="0.06" >T-DM1</text>
<line x1="453.00" y1="69.10" x2="461.50" y2="69.10" stroke="#2f9a3a" stroke-width="1.0" />
<path d="M457.30,66.63L459.77,69.10L457.30,71.57L454.83,69.10Z" fill="#2f9a3a"/>
<text transform="translate(463.80,71.47) scale(1,1.15)" font-size="5.8" stroke="#000" stroke-width="0.06" >Tucatinib + T-DM1</text>
<text transform="translate(91.00,148.12) scale(1,1.08)" font-size="7.35" text-anchor="middle" font-weight="bold" >BT-474 (Subcutaneous)</text>
<line x1="32.50" y1="155.00" x2="32.50" y2="231.00" stroke="#333" stroke-width="1.0" />
<line x1="30.30" y1="230.50" x2="32.80" y2="230.50" stroke="#333" stroke-width="0.9" />
<text transform="translate(29.30,232.75) scale(1,1.15)" font-size="5.5" text-anchor="end" stroke="#000" stroke-width="0.06" >0</text>
<line x1="30.30" y1="215.40" x2="32.80" y2="215.40" stroke="#333" stroke-width="0.9" />
<text transform="translate(29.30,217.65) scale(1,1.15)" font-size="5.5" text-anchor="end" stroke="#000" stroke-width="0.06" >200</text>
<line x1="30.30" y1="200.30" x2="32.80" y2="200.30" stroke="#333" stroke-width="0.9" />
<text transform="translate(29.30,202.55) scale(1,1.15)" font-size="5.5" text-anchor="end" stroke="#000" stroke-width="0.06" >400</text>
<line x1="30.30" y1="185.20" x2="32.80" y2="185.20" stroke="#333" stroke-width="0.9" />
<text transform="translate(29.30,187.45) scale(1,1.15)" font-size="5.5" text-anchor="end" stroke="#000" stroke-width="0.06" >600</text>
<line x1="30.30" y1="170.10" x2="32.80" y2="170.10" stroke="#333" stroke-width="0.9" />
<text transform="translate(29.30,172.35) scale(1,1.15)" font-size="5.5" text-anchor="end" stroke="#000" stroke-width="0.06" >800</text>
<line x1="30.30" y1="155.00" x2="32.80" y2="155.00" stroke="#333" stroke-width="0.9" />
<text transform="translate(29.30,157.25) scale(1,1.15)" font-size="5.5" text-anchor="end" stroke="#000" stroke-width="0.06" >1,000</text>
<line x1="32.30" y1="230.50" x2="149.45" y2="230.50" stroke="#333" stroke-width="1.0" />
<line x1="33.20" y1="230.50" x2="33.20" y2="233.00" stroke="#333" stroke-width="0.9" />
<text transform="translate(33.20,238.45) scale(1,1.15)" font-size="5.5" text-anchor="middle" stroke="#000" stroke-width="0.06" >0</text>
<line x1="56.45" y1="230.50" x2="56.45" y2="233.00" stroke="#333" stroke-width="0.9" />
<text transform="translate(56.45,238.45) scale(1,1.15)" font-size="5.5" text-anchor="middle" stroke="#000" stroke-width="0.06" >5</text>
<line x1="79.70" y1="230.50" x2="79.70" y2="233.00" stroke="#333" stroke-width="0.9" />
<text transform="translate(79.70,238.45) scale(1,1.15)" font-size="5.5" text-anchor="middle" stroke="#000" stroke-width="0.06" >10</text>
<line x1="102.95" y1="230.50" x2="102.95" y2="233.00" stroke="#333" stroke-width="0.9" />
<text transform="translate(102.95,238.45) scale(1,1.15)" font-size="5.5" text-anchor="middle" stroke="#000" stroke-width="0.06" >15</text>
<line x1="126.20" y1="230.50" x2="126.20" y2="233.00" stroke="#333" stroke-width="0.9" />
<text transform="translate(126.20,238.45) scale(1,1.15)" font-size="5.5" text-anchor="middle" stroke="#000" stroke-width="0.06" >20</text>
<line x1="149.45" y1="230.50" x2="149.45" y2="233.00" stroke="#333" stroke-width="0.9" />
<text transform="translate(149.45,238.45) scale(1,1.15)" font-size="5.5" text-anchor="middle" stroke="#000" stroke-width="0.06" >25</text>
<text transform="translate(91.00,246.62) scale(1,1.04)" font-size="6.0" text-anchor="middle" font-weight="bold" >Study day</text>
<text transform="translate(11.20,191.80) rotate(-90) scale(1,1)" x="0" y="2.11" font-size="5.85" font-weight="bold" text-anchor="middle" fill="#1a1a1a">Tumor volume (mm<tspan font-size="58%" dy="-2.1">3</tspan><tspan dy="2.1">) ± SEM</tspan></text>
<text transform="translate(37.30,161.52) scale(1,1.25)" font-size="5.9" font-style="italic" fill="#222" >T-DM1 vs. combination</text>
<text transform="translate(37.30,168.52) scale(1,1.25)" font-size="5.9" font-style="italic" fill="#222" >D21: <tspan font-style="italic">P</tspan> = 0.002</text>
<path d="M51.80,220.50V222.10M50.30,220.50H53.30M50.30,222.10H53.30" stroke="#2f9a3a" stroke-width="0.75" fill="none" stroke-opacity="0.55"/>
<path d="M70.40,223.70V225.30M68.90,223.70H71.90M68.90,225.30H71.90" stroke="#2f9a3a" stroke-width="0.75" fill="none" stroke-opacity="0.55"/>
<path d="M89.00,226.70V228.30M87.50,226.70H90.50M87.50,228.30H90.50" stroke="#2f9a3a" stroke-width="0.75" fill="none" stroke-opacity="0.55"/>
<path d="M107.60,227.40V229.00M106.10,227.40H109.10M106.10,229.00H109.10" stroke="#2f9a3a" stroke-width="0.75" fill="none" stroke-opacity="0.55"/>
<path d="M130.85,228.00V229.60M129.35,228.00H132.35M129.35,229.60H132.35" stroke="#2f9a3a" stroke-width="0.75" fill="none" stroke-opacity="0.55"/>
<polyline points="33.20,213.50 51.80,221.30 70.40,224.50 89.00,227.50 107.60,228.20 130.85,228.80" fill="none" stroke="#2f9a3a" stroke-width="0.9" stroke-linejoin="round" />
<path d="M33.20,211.35L35.35,213.50L33.20,215.65L31.05,213.50Z" fill="#2f9a3a"/>
<path d="M51.80,219.15L53.95,221.30L51.80,223.45L49.65,221.30Z" fill="#2f9a3a"/>
<path d="M70.40,222.35L72.55,224.50L70.40,226.65L68.25,224.50Z" fill="#2f9a3a"/>
<path d="M89.00,225.35L91.15,227.50L89.00,229.65L86.85,227.50Z" fill="#2f9a3a"/>
<path d="M107.60,226.05L109.75,228.20L107.60,230.35L105.45,228.20Z" fill="#2f9a3a"/>
<path d="M130.85,226.65L133.00,228.80L130.85,230.95L128.70,228.80Z" fill="#2f9a3a"/>
<path d="M51.80,217.40V219.00M50.30,217.40H53.30M50.30,219.00H53.30" stroke="#3a6ad0" stroke-width="0.75" fill="none" stroke-opacity="0.55"/>
<path d="M70.40,219.00V221.00M68.90,219.00H71.90M68.90,221.00H71.90" stroke="#3a6ad0" stroke-width="0.75" fill="none" stroke-opacity="0.55"/>
<path d="M89.00,222.20V224.20M87.50,222.20H90.50M87.50,224.20H90.50" stroke="#3a6ad0" stroke-width="0.75" fill="none" stroke-opacity="0.55"/>
<path d="M107.60,222.20V224.20M106.10,222.20H109.10M106.10,224.20H109.10" stroke="#3a6ad0" stroke-width="0.75" fill="none" stroke-opacity="0.55"/>
<path d="M130.85,223.50V225.50M129.35,223.50H132.35M129.35,225.50H132.35" stroke="#3a6ad0" stroke-width="0.75" fill="none" stroke-opacity="0.55"/>
<polyline points="33.20,213.50 51.80,218.20 70.40,220.00 89.00,223.20 107.60,223.20 130.85,224.50" fill="none" stroke="#3a6ad0" stroke-width="0.9" stroke-linejoin="round" />
<path d="M33.20,211.40L35.30,215.07L31.10,215.07Z" fill="#3a6ad0"/>
<path d="M51.80,216.10L53.90,219.77L49.70,219.77Z" fill="#3a6ad0"/>
<path d="M70.40,217.90L72.50,221.57L68.30,221.57Z" fill="#3a6ad0"/>
<path d="M89.00,221.10L91.10,224.77L86.90,224.77Z" fill="#3a6ad0"/>
<path d="M107.60,221.10L109.70,224.77L105.50,224.77Z" fill="#3a6ad0"/>
<path d="M130.85,222.40L132.95,226.07L128.75,226.07Z" fill="#3a6ad0"/>
<path d="M51.80,217.00V219.00M50.30,217.00H53.30M50.30,219.00H53.30" stroke="#ff0000" stroke-width="0.75" fill="none" stroke-opacity="0.55"/>
<path d="M70.40,215.80V217.80M68.90,215.80H71.90M68.90,217.80H71.90" stroke="#ff0000" stroke-width="0.75" fill="none" stroke-opacity="0.55"/>
<path d="M89.00,218.40V220.40M87.50,218.40H90.50M87.50,220.40H90.50" stroke="#ff0000" stroke-width="0.75" fill="none" stroke-opacity="0.55"/>
<path d="M107.60,220.30V222.30M106.10,220.30H109.10M106.10,222.30H109.10" stroke="#ff0000" stroke-width="0.75" fill="none" stroke-opacity="0.55"/>
<path d="M130.85,218.30V220.70M129.35,218.30H132.35M129.35,220.70H132.35" stroke="#ff0000" stroke-width="0.75" fill="none" stroke-opacity="0.55"/>
<polyline points="33.20,213.50 51.80,218.00 70.40,216.80 89.00,219.40 107.60,221.30 130.85,219.50" fill="none" stroke="#ff0000" stroke-width="0.9" stroke-linejoin="round" />
<rect x="31.55" y="211.85" width="3.30" height="3.30" fill="#ff0000"/>
<rect x="50.15" y="216.35" width="3.30" height="3.30" fill="#ff0000"/>
<rect x="68.75" y="215.15" width="3.30" height="3.30" fill="#ff0000"/>
<rect x="87.35" y="217.75" width="3.30" height="3.30" fill="#ff0000"/>
<rect x="105.95" y="219.65" width="3.30" height="3.30" fill="#ff0000"/>
<rect x="129.20" y="217.85" width="3.30" height="3.30" fill="#ff0000"/>
<path d="M51.80,210.70V212.30M50.30,210.70H53.30M50.30,212.30H53.30" stroke="#000" stroke-width="0.75" fill="none" stroke-opacity="0.75"/>
<path d="M70.40,202.50V206.50M68.90,202.50H71.90M68.90,206.50H71.90" stroke="#000" stroke-width="0.75" fill="none" stroke-opacity="0.75"/>
<path d="M89.00,194.60V199.00M87.50,194.60H90.50M87.50,199.00H90.50" stroke="#000" stroke-width="0.75" fill="none" stroke-opacity="0.75"/>
<path d="M107.60,184.00V190.00M106.10,184.00H109.10M106.10,190.00H109.10" stroke="#000" stroke-width="0.75" fill="none" stroke-opacity="0.75"/>
<path d="M130.85,170.40V180.80M129.35,170.40H132.35M129.35,180.80H132.35" stroke="#000" stroke-width="0.75" fill="none" stroke-opacity="0.75"/>
<polyline points="33.20,213.50 51.80,211.50 70.40,204.50 89.00,196.80 107.60,187.00 130.85,175.60" fill="none" stroke="#000" stroke-width="0.9" stroke-linejoin="round" />
<circle cx="33.20" cy="213.50" r="1.45" fill="#000"/>
<circle cx="51.80" cy="211.50" r="1.45" fill="#000"/>
<circle cx="70.40" cy="204.50" r="1.45" fill="#000"/>
<circle cx="89.00" cy="196.80" r="1.45" fill="#000"/>
<circle cx="107.60" cy="187.00" r="1.45" fill="#000"/>
<circle cx="130.85" cy="175.60" r="1.45" fill="#000"/>
<line x1="27.00" y1="257.30" x2="35.50" y2="257.30" stroke="#000" stroke-width="1.0" />
<circle cx="31.30" cy="257.30" r="1.59" fill="#000"/>
<text transform="translate(37.60,259.67) scale(1,1.15)" font-size="5.8" stroke="#000" stroke-width="0.06" >Vehicle control</text>
<line x1="27.00" y1="266.00" x2="35.50" y2="266.00" stroke="#ff0000" stroke-width="1.0" />
<rect x="29.48" y="264.19" width="3.63" height="3.63" fill="#ff0000"/>
<text transform="translate(37.60,268.37) scale(1,1.15)" font-size="5.8" stroke="#000" stroke-width="0.06" >Tucatinib</text>
<line x1="91.00" y1="257.30" x2="99.50" y2="257.30" stroke="#3a6ad0" stroke-width="1.0" />
<path d="M95.30,254.99L97.61,259.03L92.99,259.03Z" fill="#3a6ad0"/>
<text transform="translate(101.60,259.67) scale(1,1.15)" font-size="5.8" stroke="#000" stroke-width="0.06" >T-DM1</text>
<line x1="91.00" y1="266.00" x2="99.50" y2="266.00" stroke="#2f9a3a" stroke-width="1.0" />
<path d="M95.30,263.63L97.66,266.00L95.30,268.37L92.94,266.00Z" fill="#2f9a3a"/>
<text transform="translate(101.60,268.37) scale(1,1.15)" font-size="5.8" stroke="#000" stroke-width="0.06" >Tucatinib + T-DM1</text>
<text transform="translate(89.00,288.62) scale(1,1.08)" font-size="7.35" text-anchor="middle" font-weight="bold" >BT-474 (Intracranial)</text>
<line x1="32.50" y1="295.25" x2="32.50" y2="371.50" stroke="#333" stroke-width="1.0" />
<line x1="29.50" y1="371.00" x2="32.00" y2="371.00" stroke="#333" stroke-width="0.9" />
<text transform="translate(28.50,373.25) scale(1,1.15)" font-size="5.5" text-anchor="end" stroke="#000" stroke-width="0.06" >0</text>
<line x1="29.50" y1="355.85" x2="32.00" y2="355.85" stroke="#333" stroke-width="0.9" />
<text transform="translate(28.50,358.10) scale(1,1.15)" font-size="5.5" text-anchor="end" stroke="#000" stroke-width="0.06" >10</text>
<line x1="29.50" y1="340.70" x2="32.00" y2="340.70" stroke="#333" stroke-width="0.9" />
<text transform="translate(28.50,342.95) scale(1,1.15)" font-size="5.5" text-anchor="end" stroke="#000" stroke-width="0.06" >20</text>
<line x1="29.50" y1="325.55" x2="32.00" y2="325.55" stroke="#333" stroke-width="0.9" />
<text transform="translate(28.50,327.80) scale(1,1.15)" font-size="5.5" text-anchor="end" stroke="#000" stroke-width="0.06" >30</text>
<line x1="29.50" y1="310.40" x2="32.00" y2="310.40" stroke="#333" stroke-width="0.9" />
<text transform="translate(28.50,312.65) scale(1,1.15)" font-size="5.5" text-anchor="end" stroke="#000" stroke-width="0.06" >40</text>
<line x1="29.50" y1="295.25" x2="32.00" y2="295.25" stroke="#333" stroke-width="0.9" />
<text transform="translate(28.50,297.50) scale(1,1.15)" font-size="5.5" text-anchor="end" stroke="#000" stroke-width="0.06" >50</text>
<line x1="31.50" y1="371.50" x2="144.15" y2="371.50" stroke="#333" stroke-width="1.0" />
<line x1="39.40" y1="371.00" x2="39.40" y2="373.50" stroke="#333" stroke-width="0.9" />
<text transform="translate(39.40,381.65) scale(1,1.15)" font-size="5.5" text-anchor="middle" stroke="#000" stroke-width="0.06" >0</text>
<line x1="56.80" y1="371.00" x2="56.80" y2="373.50" stroke="#333" stroke-width="0.9" />
<text transform="translate(56.80,381.65) scale(1,1.15)" font-size="5.5" text-anchor="middle" stroke="#000" stroke-width="0.06" >5</text>
<line x1="74.20" y1="371.00" x2="74.20" y2="373.50" stroke="#333" stroke-width="0.9" />
<text transform="translate(74.20,381.65) scale(1,1.15)" font-size="5.5" text-anchor="middle" stroke="#000" stroke-width="0.06" >10</text>
<line x1="91.60" y1="371.00" x2="91.60" y2="373.50" stroke="#333" stroke-width="0.9" />
<text transform="translate(91.60,381.65) scale(1,1.15)" font-size="5.5" text-anchor="middle" stroke="#000" stroke-width="0.06" >15</text>
<line x1="109.00" y1="371.00" x2="109.00" y2="373.50" stroke="#333" stroke-width="0.9" />
<text transform="translate(109.00,381.65) scale(1,1.15)" font-size="5.5" text-anchor="middle" stroke="#000" stroke-width="0.06" >20</text>
<line x1="126.40" y1="371.00" x2="126.40" y2="373.50" stroke="#333" stroke-width="0.9" />
<text transform="translate(126.40,381.65) scale(1,1.15)" font-size="5.5" text-anchor="middle" stroke="#000" stroke-width="0.06" >25</text>
<line x1="143.80" y1="371.00" x2="143.80" y2="373.50" stroke="#333" stroke-width="0.9" />
<text transform="translate(143.80,381.65) scale(1,1.15)" font-size="5.5" text-anchor="middle" stroke="#000" stroke-width="0.06" >30</text>
<text transform="translate(88.80,388.82) scale(1,1.04)" font-size="6.0" text-anchor="middle" font-weight="bold" >Study day</text>
<text transform="translate(11.30,333.60) rotate(-90) scale(1,1)" x="0" y="2.11" font-size="5.85" font-weight="bold" text-anchor="middle" fill="#1a1a1a">Tumor volume (mm<tspan font-size="58%" dy="-2.1">3</tspan><tspan dy="2.1">) ± SEM</tspan></text>
<text transform="translate(34.80,301.82) scale(1,1.25)" font-size="5.9" font-style="italic" fill="#222" >Tuc vs. veh: <tspan font-style="italic">P</tspan> &lt; 0.001</text>
<text transform="translate(34.80,308.62) scale(1,1.25)" font-size="5.9" font-style="italic" fill="#222" >Tuc vs. combo: ns</text>
<text transform="translate(34.80,316.02) scale(1,1.25)" font-size="5.9" font-style="italic" fill="#222" >(D22)</text>
<path d="M42.88,362.20V363.80M41.38,362.20H44.38M41.38,363.80H44.38" stroke="#2f9a3a" stroke-width="0.75" fill="none" stroke-opacity="0.55"/>
<path d="M53.32,360.20V361.80M51.82,360.20H54.82M51.82,361.80H54.82" stroke="#2f9a3a" stroke-width="0.75" fill="none" stroke-opacity="0.55"/>
<path d="M67.24,359.00V360.60M65.74,359.00H68.74M65.74,360.60H68.74" stroke="#2f9a3a" stroke-width="0.75" fill="none" stroke-opacity="0.55"/>
<path d="M77.68,351.30V357.30M76.18,351.30H79.18M76.18,357.30H79.18" stroke="#2f9a3a" stroke-width="0.75" fill="none" stroke-opacity="0.55"/>
<path d="M91.60,348.80V354.80M90.10,348.80H93.10M90.10,354.80H93.10" stroke="#2f9a3a" stroke-width="0.75" fill="none" stroke-opacity="0.55"/>
<path d="M102.04,348.80V355.80M100.54,348.80H103.54M100.54,355.80H103.54" stroke="#2f9a3a" stroke-width="0.75" fill="none" stroke-opacity="0.55"/>
<path d="M115.96,348.80V354.80M114.46,348.80H117.46M114.46,354.80H117.46" stroke="#2f9a3a" stroke-width="0.75" fill="none" stroke-opacity="0.55"/>
<path d="M126.40,347.00V354.00M124.90,347.00H127.90M124.90,354.00H127.90" stroke="#2f9a3a" stroke-width="0.75" fill="none" stroke-opacity="0.55"/>
<path d="M140.32,341.80V350.80M138.82,341.80H141.82M138.82,350.80H141.82" stroke="#2f9a3a" stroke-width="0.75" fill="none" stroke-opacity="0.55"/>
<polyline points="32.44,362.50 42.88,363.00 53.32,361.00 67.24,359.80 77.68,354.30 91.60,351.80 102.04,352.30 115.96,351.80 126.40,350.50 140.32,346.30" fill="none" stroke="#2f9a3a" stroke-width="0.9" stroke-linejoin="round" />
<path d="M32.44,360.56L34.38,362.50L32.44,364.44L30.50,362.50Z" fill="#2f9a3a"/>
<path d="M42.88,361.06L44.81,363.00L42.88,364.94L40.94,363.00Z" fill="#2f9a3a"/>
<path d="M53.32,359.06L55.26,361.00L53.32,362.94L51.38,361.00Z" fill="#2f9a3a"/>
<path d="M67.24,357.87L69.17,359.80L67.24,361.74L65.30,359.80Z" fill="#2f9a3a"/>
<path d="M77.68,352.37L79.62,354.30L77.68,356.24L75.75,354.30Z" fill="#2f9a3a"/>
<path d="M91.60,349.87L93.53,351.80L91.60,353.74L89.66,351.80Z" fill="#2f9a3a"/>
<path d="M102.04,350.37L103.97,352.30L102.04,354.24L100.10,352.30Z" fill="#2f9a3a"/>
<path d="M115.96,349.87L117.90,351.80L115.96,353.74L114.03,351.80Z" fill="#2f9a3a"/>
<path d="M126.40,348.56L128.34,350.50L126.40,352.44L124.47,350.50Z" fill="#2f9a3a"/>
<path d="M140.32,344.37L142.25,346.30L140.32,348.24L138.38,346.30Z" fill="#2f9a3a"/>
<path d="M42.88,361.40V363.00M41.38,361.40H44.38M41.38,363.00H44.38" stroke="#ff0000" stroke-width="0.75" fill="none" stroke-opacity="0.55"/>
<path d="M53.32,359.00V360.60M51.82,359.00H54.82M51.82,360.60H54.82" stroke="#ff0000" stroke-width="0.75" fill="none" stroke-opacity="0.55"/>
<path d="M67.24,359.00V360.60M65.74,359.00H68.74M65.74,360.60H68.74" stroke="#ff0000" stroke-width="0.75" fill="none" stroke-opacity="0.55"/>
<path d="M77.68,356.50V358.50M76.18,356.50H79.18M76.18,358.50H79.18" stroke="#ff0000" stroke-width="0.75" fill="none" stroke-opacity="0.55"/>
<path d="M91.60,354.30V356.70M90.10,354.30H93.10M90.10,356.70H93.10" stroke="#ff0000" stroke-width="0.75" fill="none" stroke-opacity="0.55"/>
<path d="M102.04,354.80V357.20M100.54,354.80H103.54M100.54,357.20H103.54" stroke="#ff0000" stroke-width="0.75" fill="none" stroke-opacity="0.55"/>
<path d="M115.96,354.30V356.70M114.46,354.30H117.46M114.46,356.70H117.46" stroke="#ff0000" stroke-width="0.75" fill="none" stroke-opacity="0.55"/>
<path d="M126.40,351.80V355.80M124.90,351.80H127.90M124.90,355.80H127.90" stroke="#ff0000" stroke-width="0.75" fill="none" stroke-opacity="0.55"/>
<path d="M140.32,348.00V352.00M138.82,348.00H141.82M138.82,352.00H141.82" stroke="#ff0000" stroke-width="0.75" fill="none" stroke-opacity="0.55"/>
<polyline points="32.44,362.50 42.88,362.20 53.32,359.80 67.24,359.80 77.68,357.50 91.60,355.50 102.04,356.00 115.96,355.50 126.40,353.80 140.32,350.00" fill="none" stroke="#ff0000" stroke-width="0.9" stroke-linejoin="round" />
<rect x="30.95" y="361.01" width="2.97" height="2.97" fill="#ff0000"/>
<rect x="41.39" y="360.71" width="2.97" height="2.97" fill="#ff0000"/>
<rect x="51.84" y="358.31" width="2.97" height="2.97" fill="#ff0000"/>
<rect x="65.75" y="358.31" width="2.97" height="2.97" fill="#ff0000"/>
<rect x="76.20" y="356.01" width="2.97" height="2.97" fill="#ff0000"/>
<rect x="90.11" y="354.01" width="2.97" height="2.97" fill="#ff0000"/>
<rect x="100.55" y="354.51" width="2.97" height="2.97" fill="#ff0000"/>
<rect x="114.48" y="354.01" width="2.97" height="2.97" fill="#ff0000"/>
<rect x="124.92" y="352.31" width="2.97" height="2.97" fill="#ff0000"/>
<rect x="138.83" y="348.51" width="2.97" height="2.97" fill="#ff0000"/>
<path d="M42.88,355.80V358.80M41.38,355.80H44.38M41.38,358.80H44.38" stroke="#3a6ad0" stroke-width="0.75" fill="none" stroke-opacity="0.55"/>
<path d="M53.32,352.30V354.70M51.82,352.30H54.82M51.82,354.70H54.82" stroke="#3a6ad0" stroke-width="0.75" fill="none" stroke-opacity="0.55"/>
<path d="M67.24,347.30V351.30M65.74,347.30H68.74M65.74,351.30H68.74" stroke="#3a6ad0" stroke-width="0.75" fill="none" stroke-opacity="0.55"/>
<path d="M77.68,341.30V346.30M76.18,341.30H79.18M76.18,346.30H79.18" stroke="#3a6ad0" stroke-width="0.75" fill="none" stroke-opacity="0.55"/>
<path d="M91.60,338.80V344.80M90.10,338.80H93.10M90.10,344.80H93.10" stroke="#3a6ad0" stroke-width="0.75" fill="none" stroke-opacity="0.55"/>
<path d="M102.04,331.80V340.80M100.54,331.80H103.54M100.54,340.80H103.54" stroke="#3a6ad0" stroke-width="0.75" fill="none" stroke-opacity="0.55"/>
<path d="M115.96,328.50V346.50M114.46,328.50H117.46M114.46,346.50H117.46" stroke="#3a6ad0" stroke-width="0.75" fill="none" stroke-opacity="0.55"/>
<path d="M126.40,325.50V344.50M124.90,325.50H127.90M124.90,344.50H127.90" stroke="#3a6ad0" stroke-width="0.75" fill="none" stroke-opacity="0.55"/>
<path d="M140.32,303.00V333.00M138.82,303.00H141.82M138.82,333.00H141.82" stroke="#3a6ad0" stroke-width="0.75" fill="none" stroke-opacity="0.55"/>
<polyline points="32.44,362.50 42.88,357.30 53.32,353.50 67.24,349.30 77.68,343.80 91.60,341.80 102.04,336.30 115.96,337.50 126.40,335.00 140.32,318.00" fill="none" stroke="#3a6ad0" stroke-width="0.9" stroke-linejoin="round" />
<path d="M32.44,364.70L34.64,360.85L30.24,360.85Z" fill="#3a6ad0"/>
<path d="M42.88,359.50L45.08,355.65L40.68,355.65Z" fill="#3a6ad0"/>
<path d="M53.32,355.70L55.52,351.85L51.12,351.85Z" fill="#3a6ad0"/>
<path d="M67.24,351.50L69.44,347.65L65.04,347.65Z" fill="#3a6ad0"/>
<path d="M77.68,346.00L79.88,342.15L75.48,342.15Z" fill="#3a6ad0"/>
<path d="M91.60,344.00L93.80,340.15L89.40,340.15Z" fill="#3a6ad0"/>
<path d="M102.04,338.50L104.24,334.65L99.84,334.65Z" fill="#3a6ad0"/>
<path d="M115.96,339.70L118.16,335.85L113.76,335.85Z" fill="#3a6ad0"/>
<path d="M126.40,337.20L128.60,333.35L124.20,333.35Z" fill="#3a6ad0"/>
<path d="M140.32,320.20L142.52,316.35L138.12,316.35Z" fill="#3a6ad0"/>
<path d="M42.88,357.30V359.70M41.38,357.30H44.38M41.38,359.70H44.38" stroke="#000" stroke-width="0.75" fill="none" stroke-opacity="0.75"/>
<path d="M53.32,352.50V354.50M51.82,352.50H54.82M51.82,354.50H54.82" stroke="#000" stroke-width="0.75" fill="none" stroke-opacity="0.75"/>
<path d="M67.24,350.00V352.00M65.74,350.00H68.74M65.74,352.00H68.74" stroke="#000" stroke-width="0.75" fill="none" stroke-opacity="0.75"/>
<path d="M77.68,344.80V347.80M76.18,344.80H79.18M76.18,347.80H79.18" stroke="#000" stroke-width="0.75" fill="none" stroke-opacity="0.75"/>
<path d="M91.60,343.50V346.50M90.10,343.50H93.10M90.10,346.50H93.10" stroke="#000" stroke-width="0.75" fill="none" stroke-opacity="0.75"/>
<path d="M102.04,338.00V342.00M100.54,338.00H103.54M100.54,342.00H103.54" stroke="#000" stroke-width="0.75" fill="none" stroke-opacity="0.75"/>
<path d="M115.96,329.80V333.80M114.46,329.80H117.46M114.46,333.80H117.46" stroke="#000" stroke-width="0.75" fill="none" stroke-opacity="0.75"/>
<path d="M126.40,315.00V327.00M124.90,315.00H127.90M124.90,327.00H127.90" stroke="#000" stroke-width="0.75" fill="none" stroke-opacity="0.75"/>
<path d="M140.32,299.80V318.80M138.82,299.80H141.82M138.82,318.80H141.82" stroke="#000" stroke-width="0.75" fill="none" stroke-opacity="0.75"/>
<polyline points="32.44,362.50 42.88,358.50 53.32,353.50 67.24,351.00 77.68,346.30 91.60,345.00 102.04,340.00 115.96,331.80 126.40,321.00 140.32,309.30" fill="none" stroke="#000" stroke-width="0.9" stroke-linejoin="round" />
<circle cx="32.44" cy="362.50" r="1.30" fill="#000"/>
<circle cx="42.88" cy="358.50" r="1.30" fill="#000"/>
<circle cx="53.32" cy="353.50" r="1.30" fill="#000"/>
<circle cx="67.24" cy="351.00" r="1.30" fill="#000"/>
<circle cx="77.68" cy="346.30" r="1.30" fill="#000"/>
<circle cx="91.60" cy="345.00" r="1.30" fill="#000"/>
<circle cx="102.04" cy="340.00" r="1.30" fill="#000"/>
<circle cx="115.96" cy="331.80" r="1.30" fill="#000"/>
<circle cx="126.40" cy="321.00" r="1.30" fill="#000"/>
<circle cx="140.32" cy="309.30" r="1.30" fill="#000"/>
<text transform="translate(251.00,289.12) scale(1,1.08)" font-size="7.35" text-anchor="middle" font-weight="bold" >BT-474 (Intracranial)</text>
<line x1="197.50" y1="293.30" x2="197.50" y2="371.80" stroke="#333" stroke-width="1.0" />
<line x1="195.00" y1="371.30" x2="197.50" y2="371.30" stroke="#333" stroke-width="0.9" />
<text transform="translate(194.00,373.55) scale(1,1.15)" font-size="5.5" text-anchor="end" stroke="#000" stroke-width="0.06" >0</text>
<line x1="195.00" y1="357.25" x2="197.50" y2="357.25" stroke="#333" stroke-width="0.9" />
<text transform="translate(194.00,359.50) scale(1,1.15)" font-size="5.5" text-anchor="end" stroke="#000" stroke-width="0.06" >20</text>
<line x1="195.00" y1="343.20" x2="197.50" y2="343.20" stroke="#333" stroke-width="0.9" />
<text transform="translate(194.00,345.45) scale(1,1.15)" font-size="5.5" text-anchor="end" stroke="#000" stroke-width="0.06" >40</text>
<line x1="195.00" y1="329.15" x2="197.50" y2="329.15" stroke="#333" stroke-width="0.9" />
<text transform="translate(194.00,331.40) scale(1,1.15)" font-size="5.5" text-anchor="end" stroke="#000" stroke-width="0.06" >60</text>
<line x1="195.00" y1="315.10" x2="197.50" y2="315.10" stroke="#333" stroke-width="0.9" />
<text transform="translate(194.00,317.35) scale(1,1.15)" font-size="5.5" text-anchor="end" stroke="#000" stroke-width="0.06" >80</text>
<line x1="195.00" y1="301.05" x2="197.50" y2="301.05" stroke="#333" stroke-width="0.9" />
<text transform="translate(194.00,303.30) scale(1,1.15)" font-size="5.5" text-anchor="end" stroke="#000" stroke-width="0.06" >100</text>
<line x1="197.00" y1="371.50" x2="314.25" y2="371.50" stroke="#333" stroke-width="1.0" />
<line x1="197.50" y1="371.30" x2="197.50" y2="373.80" stroke="#333" stroke-width="0.9" />
<text transform="translate(197.50,381.05) scale(1,1.15)" font-size="5.5" text-anchor="middle" stroke="#000" stroke-width="0.06" >0</text>
<line x1="220.85" y1="371.30" x2="220.85" y2="373.80" stroke="#333" stroke-width="0.9" />
<text transform="translate(220.85,381.05) scale(1,1.15)" font-size="5.5" text-anchor="middle" stroke="#000" stroke-width="0.06" >20</text>
<line x1="244.20" y1="371.30" x2="244.20" y2="373.80" stroke="#333" stroke-width="0.9" />
<text transform="translate(244.20,381.05) scale(1,1.15)" font-size="5.5" text-anchor="middle" stroke="#000" stroke-width="0.06" >40</text>
<line x1="267.55" y1="371.30" x2="267.55" y2="373.80" stroke="#333" stroke-width="0.9" />
<text transform="translate(267.55,381.05) scale(1,1.15)" font-size="5.5" text-anchor="middle" stroke="#000" stroke-width="0.06" >60</text>
<line x1="290.90" y1="371.30" x2="290.90" y2="373.80" stroke="#333" stroke-width="0.9" />
<text transform="translate(290.90,381.05) scale(1,1.15)" font-size="5.5" text-anchor="middle" stroke="#000" stroke-width="0.06" >80</text>
<line x1="314.25" y1="371.30" x2="314.25" y2="373.80" stroke="#333" stroke-width="0.9" />
<text transform="translate(314.25,381.05) scale(1,1.15)" font-size="5.5" text-anchor="middle" stroke="#000" stroke-width="0.06" >100</text>
<line x1="209.18" y1="371.30" x2="209.18" y2="373.30" stroke="#333" stroke-width="0.9" />
<line x1="232.53" y1="371.30" x2="232.53" y2="373.30" stroke="#333" stroke-width="0.9" />
<line x1="255.88" y1="371.30" x2="255.88" y2="373.30" stroke="#333" stroke-width="0.9" />
<line x1="279.23" y1="371.30" x2="279.23" y2="373.30" stroke="#333" stroke-width="0.9" />
<line x1="302.57" y1="371.30" x2="302.57" y2="373.30" stroke="#333" stroke-width="0.9" />
<text transform="translate(256.00,388.72) scale(1,1.04)" font-size="6.0" text-anchor="middle" font-weight="bold" >Study day</text>
<text transform="translate(175.40,334.50) rotate(-90) scale(1,1)" x="0" y="2.11" font-size="5.85" font-weight="bold" text-anchor="middle" fill="#1a1a1a">Percent survival</text>
<line x1="198.67" y1="368.80" x2="232.53" y2="368.80" stroke="#f7a543" stroke-width="1.0" />
<circle cx="198.67" cy="368.8" r="1.1" fill="#f7a543"/>
<circle cx="232.53" cy="368.8" r="1.1" fill="#f7a543"/>
<text transform="translate(215.70,367.27) scale(1,1.15)" font-size="5.8" text-anchor="middle" stroke="#000" stroke-width="0.06" >Treatment</text>
<text transform="translate(200.50,336.42) scale(1,1.25)" font-size="5.9" font-style="italic" fill="#222" >Tuc vs. veh: <tspan font-style="italic">P</tspan> &lt; 0.001</text>
<text transform="translate(200.50,343.42) scale(1,1.25)" font-size="5.9" font-style="italic" fill="#222" >Tuc vs. combo: ns</text>
<text transform="translate(200.50,350.22) scale(1,1.25)" font-size="5.9" font-style="italic" fill="#222" >(D22)</text>
<polyline points="197.50,301.05 225.52,301.05 225.52,308.07 280.39,308.07 280.39,315.10 283.89,315.10 283.89,322.12 287.63,322.12 287.63,350.23 295.80,350.23 295.80,357.25 303.98,357.25 303.98,371.30" fill="none" stroke="#3cbf6e" stroke-width="1.0" stroke-linejoin="round" stroke-linejoin="miter" shape-rendering="crispEdges"/>
<polyline points="197.50,301.05 262.88,301.05 262.88,315.10 274.56,315.10 274.56,329.15 280.39,329.15 280.39,350.23 283.89,350.23 283.89,357.25 314.25,357.25 314.25,357.25" fill="none" stroke="#5a82d6" stroke-width="1.0" stroke-linejoin="round" stroke-linejoin="miter" shape-rendering="crispEdges"/>
<polyline points="197.50,301.05 274.56,301.05 274.56,308.07 280.39,308.07 280.39,315.10 283.89,315.10 283.89,329.15 286.23,329.15 286.23,343.20 287.63,343.20 287.63,357.25 295.80,357.25 295.80,371.30" fill="none" stroke="#ff2a2a" stroke-width="1.0" stroke-linejoin="round" stroke-linejoin="miter" shape-rendering="crispEdges"/>
<polyline points="197.50,301.05 215.01,301.05 215.01,308.07 230.19,308.07 230.19,315.10 251.20,315.10 251.20,322.12 262.88,322.12 262.88,336.18 274.56,336.18 274.56,371.30" fill="none" stroke="#222" stroke-width="1.0" stroke-linejoin="round" stroke-linejoin="miter" shape-rendering="crispEdges"/>
<line x1="307.30" y1="299.10" x2="316.20" y2="299.10" stroke="#333" stroke-width="1.1" />
<text transform="translate(321.20,301.51) scale(1,1.15)" font-size="5.9" stroke="#000" stroke-width="0.06" >Vehicle control</text>
<line x1="307.30" y1="309.40" x2="316.20" y2="309.40" stroke="#ff2a2a" stroke-width="1.1" />
<text transform="translate(321.20,311.81) scale(1,1.15)" font-size="5.9" stroke="#000" stroke-width="0.06" >Tucatinib</text>
<line x1="307.30" y1="319.70" x2="316.20" y2="319.70" stroke="#5a82d6" stroke-width="1.1" />
<text transform="translate(321.20,322.11) scale(1,1.15)" font-size="5.9" stroke="#000" stroke-width="0.06" >T-DM1</text>
<line x1="307.30" y1="330.00" x2="316.20" y2="330.00" stroke="#3cbf6e" stroke-width="1.1" />
<text transform="translate(321.20,332.41) scale(1,1.15)" font-size="5.9" stroke="#000" stroke-width="0.06" >Tucatinib + T-DM1</text>
<line x1="225.50" y1="163.70" x2="344.30" y2="163.70" stroke="#333" stroke-width="0.8" />
<line x1="348.00" y1="163.70" x2="499.30" y2="163.70" stroke="#333" stroke-width="0.8" />
<line x1="348.00" y1="174.50" x2="391.80" y2="174.50" stroke="#333" stroke-width="0.8" />
<line x1="395.00" y1="174.50" x2="438.80" y2="174.50" stroke="#333" stroke-width="0.8" />
<line x1="441.80" y1="174.50" x2="499.30" y2="174.50" stroke="#333" stroke-width="0.8" />
<line x1="174.00" y1="185.50" x2="513.80" y2="185.50" stroke="#222" stroke-width="1.2" />
<line x1="174.00" y1="230.50" x2="513.80" y2="230.50" stroke="#222" stroke-width="1.2" />
<text transform="translate(285.00,160.04) scale(1,1.15)" font-size="6.7" text-anchor="middle" stroke="#000" stroke-width="0.06" >TGI (%)</text>
<text transform="translate(423.50,160.04) scale(1,1.15)" font-size="6.7" text-anchor="middle" stroke="#000" stroke-width="0.06" >Response Rate</text>
<text transform="translate(370.00,172.34) scale(1,1.15)" font-size="6.7" text-anchor="middle" stroke="#000" stroke-width="0.06" >T-DM1</text>
<text transform="translate(417.50,172.34) scale(1,1.15)" font-size="6.7" text-anchor="middle" stroke="#000" stroke-width="0.06" >Tucatinib</text>
<text transform="translate(471.50,172.34) scale(1,1.15)" font-size="6.7" text-anchor="middle" stroke="#000" stroke-width="0.06" >Tucatinib + T-DM1</text>
<text transform="translate(175.50,175.74) scale(1,1.15)" font-size="6.7" stroke="#000" stroke-width="0.06" >Xenograft</text>
<text transform="translate(175.50,184.04) scale(1,1.15)" font-size="6.7" stroke="#000" stroke-width="0.06" >Model</text>
<text transform="translate(237.70,183.64) scale(1,1.15)" font-size="6.7" text-anchor="middle" stroke="#000" stroke-width="0.06" >T-DM1</text>
<text transform="translate(266.80,183.64) scale(1,1.15)" font-size="6.7" text-anchor="middle" stroke="#000" stroke-width="0.06" >Tucatinib</text>
<text transform="translate(313.70,183.64) scale(1,1.15)" font-size="6.7" text-anchor="middle" stroke="#000" stroke-width="0.06" >Tucatinib + T-DM1</text>
<text transform="translate(358.80,183.64) scale(1,1.15)" font-size="6.7" text-anchor="middle" stroke="#000" stroke-width="0.06" >PR</text>
<text transform="translate(380.80,183.64) scale(1,1.15)" font-size="6.7" text-anchor="middle" stroke="#000" stroke-width="0.06" >CR</text>
<text transform="translate(406.30,183.64) scale(1,1.15)" font-size="6.7" text-anchor="middle" stroke="#000" stroke-width="0.06" >PR</text>
<text transform="translate(428.00,183.64) scale(1,1.15)" font-size="6.7" text-anchor="middle" stroke="#000" stroke-width="0.06" >CR</text>
<text transform="translate(456.30,183.64) scale(1,1.15)" font-size="6.7" text-anchor="middle" stroke="#000" stroke-width="0.06" >PR</text>
<text transform="translate(484.50,183.64) scale(1,1.15)" font-size="6.7" text-anchor="middle" stroke="#000" stroke-width="0.06" >CR</text>
<text transform="translate(505.50,183.64) scale(1,1.15)" font-size="6.7" text-anchor="middle" stroke="#000" stroke-width="0.06" >n</text>
<text transform="translate(175.50,194.94) scale(1,1.15)" font-size="6.7" stroke="#000" stroke-width="0.06" >BT-474 (SubQ)</text>
<text transform="translate(237.70,194.94) scale(1,1.15)" font-size="6.7" text-anchor="middle" stroke="#000" stroke-width="0.06" >128</text>
<text transform="translate(266.80,194.94) scale(1,1.15)" font-size="6.7" text-anchor="middle" stroke="#000" stroke-width="0.06" >116</text>
<text transform="translate(313.70,194.94) scale(1,1.15)" font-size="6.7" text-anchor="middle" font-weight="bold" >140</text>
<text transform="translate(358.80,194.94) scale(1,1.15)" font-size="6.7" text-anchor="middle" stroke="#000" stroke-width="0.06" >8</text>
<text transform="translate(380.80,194.94) scale(1,1.15)" font-size="6.7" text-anchor="middle" stroke="#000" stroke-width="0.06" >0</text>
<text transform="translate(406.30,194.94) scale(1,1.15)" font-size="6.7" text-anchor="middle" stroke="#000" stroke-width="0.06" >8</text>
<text transform="translate(428.00,194.94) scale(1,1.15)" font-size="6.7" text-anchor="middle" stroke="#000" stroke-width="0.06" >0</text>
<text transform="translate(456.30,194.94) scale(1,1.15)" font-size="6.7" text-anchor="middle" font-weight="bold" >6</text>
<text transform="translate(484.50,194.94) scale(1,1.15)" font-size="6.7" text-anchor="middle" font-weight="bold" >3</text>
<text transform="translate(505.50,194.94) scale(1,1.15)" font-size="6.7" text-anchor="middle" stroke="#000" stroke-width="0.06" >9</text>
<text transform="translate(175.50,205.84) scale(1,1.15)" font-size="6.7" stroke="#000" stroke-width="0.06" >CTG-0807</text>
<text transform="translate(237.70,205.84) scale(1,1.15)" font-size="6.7" text-anchor="middle" stroke="#000" stroke-width="0.06" >45</text>
<text transform="translate(266.80,205.84) scale(1,1.15)" font-size="6.7" text-anchor="middle" stroke="#000" stroke-width="0.06" >101</text>
<text transform="translate(313.70,205.84) scale(1,1.15)" font-size="6.7" text-anchor="middle" font-weight="bold" >118</text>
<text transform="translate(358.80,205.84) scale(1,1.15)" font-size="6.7" text-anchor="middle" stroke="#000" stroke-width="0.06" >0</text>
<text transform="translate(380.80,205.84) scale(1,1.15)" font-size="6.7" text-anchor="middle" stroke="#000" stroke-width="0.06" >0</text>
<text transform="translate(406.30,205.84) scale(1,1.15)" font-size="6.7" text-anchor="middle" stroke="#000" stroke-width="0.06" >5</text>
<text transform="translate(428.00,205.84) scale(1,1.15)" font-size="6.7" text-anchor="middle" stroke="#000" stroke-width="0.06" >0</text>
<text transform="translate(456.30,205.84) scale(1,1.15)" font-size="6.7" text-anchor="middle" font-weight="bold" >8</text>
<text transform="translate(484.50,205.84) scale(1,1.15)" font-size="6.7" text-anchor="middle" font-weight="bold" >0</text>
<text transform="translate(505.50,205.84) scale(1,1.15)" font-size="6.7" text-anchor="middle" stroke="#000" stroke-width="0.06" >8</text>
<text transform="translate(175.50,216.64) scale(1,1.15)" font-size="6.7" stroke="#000" stroke-width="0.06" >CTG-0708</text>
<text transform="translate(237.70,216.64) scale(1,1.15)" font-size="6.7" text-anchor="middle" stroke="#000" stroke-width="0.06" >-5</text>
<text transform="translate(266.80,216.64) scale(1,1.15)" font-size="6.7" text-anchor="middle" stroke="#000" stroke-width="0.06" >50</text>
<text transform="translate(313.70,216.64) scale(1,1.15)" font-size="6.7" text-anchor="middle" font-weight="bold" >125</text>
<text transform="translate(358.80,216.64) scale(1,1.15)" font-size="6.7" text-anchor="middle" stroke="#000" stroke-width="0.06" >0</text>
<text transform="translate(380.80,216.64) scale(1,1.15)" font-size="6.7" text-anchor="middle" stroke="#000" stroke-width="0.06" >0</text>
<text transform="translate(406.30,216.64) scale(1,1.15)" font-size="6.7" text-anchor="middle" stroke="#000" stroke-width="0.06" >1</text>
<text transform="translate(428.00,216.64) scale(1,1.15)" font-size="6.7" text-anchor="middle" stroke="#000" stroke-width="0.06" >0</text>
<text transform="translate(456.30,216.64) scale(1,1.15)" font-size="6.7" text-anchor="middle" font-weight="bold" >6</text>
<text transform="translate(484.50,216.64) scale(1,1.15)" font-size="6.7" text-anchor="middle" font-weight="bold" >2</text>
<text transform="translate(505.50,216.64) scale(1,1.15)" font-size="6.7" text-anchor="middle" stroke="#000" stroke-width="0.06" >8</text>
<text transform="translate(175.50,227.34) scale(1,1.15)" font-size="6.7" stroke="#000" stroke-width="0.06" >CTG-0717</text>
<text transform="translate(237.70,227.34) scale(1,1.15)" font-size="6.7" text-anchor="middle" stroke="#000" stroke-width="0.06" >42</text>
<text transform="translate(266.80,227.34) scale(1,1.15)" font-size="6.7" text-anchor="middle" stroke="#000" stroke-width="0.06" >90</text>
<text transform="translate(313.70,227.34) scale(1,1.15)" font-size="6.7" text-anchor="middle" font-weight="bold" >92</text>
<text transform="translate(358.80,227.34) scale(1,1.15)" font-size="6.7" text-anchor="middle" stroke="#000" stroke-width="0.06" >0</text>
<text transform="translate(380.80,227.34) scale(1,1.15)" font-size="6.7" text-anchor="middle" stroke="#000" stroke-width="0.06" >0</text>
<text transform="translate(406.30,227.34) scale(1,1.15)" font-size="6.7" text-anchor="middle" stroke="#000" stroke-width="0.06" >0</text>
<text transform="translate(428.00,227.34) scale(1,1.15)" font-size="6.7" text-anchor="middle" stroke="#000" stroke-width="0.06" >0</text>
<text transform="translate(456.30,227.34) scale(1,1.15)" font-size="6.7" text-anchor="middle" font-weight="bold" >0</text>
<text transform="translate(484.50,227.34) scale(1,1.15)" font-size="6.7" text-anchor="middle" font-weight="bold" >0</text>
<text transform="translate(505.50,227.34) scale(1,1.15)" font-size="6.7" text-anchor="middle" stroke="#000" stroke-width="0.06" >8</text>
<text transform="translate(387.50,315.04) scale(1,1.15)" font-size="6.7" stroke="#000" stroke-width="0.06" >BT-474</text>
<text transform="translate(387.50,324.44) scale(1,1.15)" font-size="6.7" stroke="#000" stroke-width="0.06" >(Intracranial)</text>
<text transform="translate(460.80,315.04) scale(1,1.15)" font-size="6.7" text-anchor="middle" stroke="#000" stroke-width="0.06" >TGI</text>
<text transform="translate(460.80,324.44) scale(1,1.15)" font-size="6.7" text-anchor="middle" stroke="#000" stroke-width="0.06" >(%)</text>
<text transform="translate(493.30,315.04) scale(1,1.15)" font-size="6.7" text-anchor="middle" stroke="#000" stroke-width="0.06" >Median</text>
<text transform="translate(493.30,324.44) scale(1,1.15)" font-size="6.7" text-anchor="middle" stroke="#000" stroke-width="0.06" >Survival (d)</text>
<line x1="386.00" y1="327.10" x2="512.50" y2="327.10" stroke="#222" stroke-width="1.2" />
<line x1="386.00" y1="371.00" x2="512.50" y2="371.00" stroke="#222" stroke-width="1.2" />
<text transform="translate(387.50,336.14) scale(1,1.15)" font-size="6.7" stroke="#000" stroke-width="0.06" >Vehicle Control</text>
<text transform="translate(460.80,336.14) scale(1,1.15)" font-size="6.7" text-anchor="middle" stroke="#000" stroke-width="0.06" >-</text>
<text transform="translate(493.30,336.14) scale(1,1.15)" font-size="6.7" text-anchor="middle" stroke="#000" stroke-width="0.06" >61</text>
<text transform="translate(387.50,347.24) scale(1,1.15)" font-size="6.7" stroke="#000" stroke-width="0.06" >T-DM1</text>
<text transform="translate(460.80,347.24) scale(1,1.15)" font-size="6.7" text-anchor="middle" font-weight="bold" >14</text>
<text transform="translate(493.30,347.24) scale(1,1.15)" font-size="6.7" text-anchor="middle" stroke="#000" stroke-width="0.06" >71</text>
<text transform="translate(387.50,358.34) scale(1,1.15)" font-size="6.7" stroke="#000" stroke-width="0.06" >Tucatinib</text>
<text transform="translate(460.80,358.34) scale(1,1.15)" font-size="6.7" text-anchor="middle" stroke="#000" stroke-width="0.06" >76</text>
<text transform="translate(493.30,358.34) scale(1,1.15)" font-size="6.7" text-anchor="middle" stroke="#000" stroke-width="0.06" >77</text>
<text transform="translate(387.50,369.44) scale(1,1.15)" font-size="6.7" stroke="#000" stroke-width="0.06" >Tucatinib + T-DM1</text>
<text transform="translate(460.80,369.44) scale(1,1.15)" font-size="6.7" text-anchor="middle" stroke="#000" stroke-width="0.06" >69</text>
<text transform="translate(493.30,369.44) scale(1,1.15)" font-size="6.7" text-anchor="middle" stroke="#000" stroke-width="0.06" >77</text>
</svg>
</body></html>
